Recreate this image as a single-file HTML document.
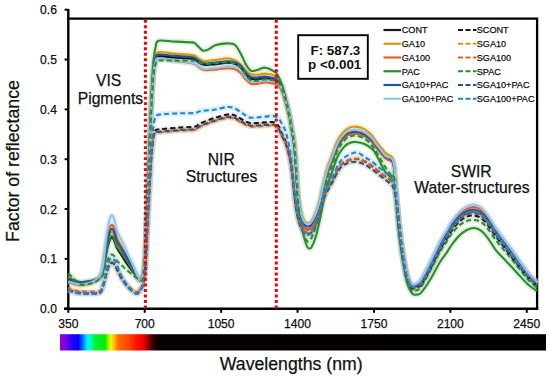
<!DOCTYPE html>
<html><head><meta charset="utf-8"><style>
html,body{margin:0;padding:0;background:#fff;width:550px;height:377px;overflow:hidden}
svg{display:block}
text{font-family:"Liberation Sans",sans-serif;fill:#111;stroke:#111;stroke-width:0.25px}
.tk{font-size:12.1px}
.lg{font-size:9.1px}
.lb{font-size:15.7px}
.ft{font-size:13.4px;font-weight:bold;stroke-width:0}
</style></head><body>
<svg width="550" height="377" viewBox="0 0 550 377">
<defs><linearGradient id="spec" x1="60" y1="0" x2="546" y2="0" gradientUnits="userSpaceOnUse">
<stop offset="0" stop-color="#9500D5"/>
<stop offset="0.01" stop-color="#8000E0"/>
<stop offset="0.024" stop-color="#2800FF"/>
<stop offset="0.038" stop-color="#0000FF"/>
<stop offset="0.05" stop-color="#00A0FF"/>
<stop offset="0.056" stop-color="#00F0FF"/>
<stop offset="0.064" stop-color="#00FFB0"/>
<stop offset="0.072" stop-color="#00F030"/>
<stop offset="0.093" stop-color="#00EE10"/>
<stop offset="0.1" stop-color="#B0F000"/>
<stop offset="0.106" stop-color="#FFF000"/>
<stop offset="0.114" stop-color="#FFA000"/>
<stop offset="0.12" stop-color="#FF6A00"/>
<stop offset="0.14" stop-color="#FF4A00"/>
<stop offset="0.16" stop-color="#FF0A00"/>
<stop offset="0.172" stop-color="#F00000"/>
<stop offset="0.18" stop-color="#A00000"/>
<stop offset="0.19" stop-color="#400000"/>
<stop offset="0.2" stop-color="#080000"/>
<stop offset="1" stop-color="#000000"/>
</linearGradient></defs>
<rect width="550" height="377" fill="#fff"/>
<line x1="68.3" y1="9" x2="68.3" y2="309.9" stroke="#000" stroke-width="2.4"/>
<line x1="64" y1="308.7" x2="538.2" y2="308.7" stroke="#000" stroke-width="2.4"/>
<path d="M67.1 18.6 H537.1 V309.9" fill="none" stroke="#000" stroke-width="2.3" stroke-linejoin="miter"/>
<line x1="64.6" y1="308.70" x2="68.3" y2="308.70" stroke="#000" stroke-width="2"/>
<text x="56.9" y="313.30" text-anchor="end" class="tk">0.0</text>
<line x1="64.6" y1="258.87" x2="68.3" y2="258.87" stroke="#000" stroke-width="2"/>
<text x="56.9" y="263.47" text-anchor="end" class="tk">0.1</text>
<line x1="64.6" y1="209.03" x2="68.3" y2="209.03" stroke="#000" stroke-width="2"/>
<text x="56.9" y="213.63" text-anchor="end" class="tk">0.2</text>
<line x1="64.6" y1="159.20" x2="68.3" y2="159.20" stroke="#000" stroke-width="2"/>
<text x="56.9" y="163.80" text-anchor="end" class="tk">0.3</text>
<line x1="64.6" y1="109.37" x2="68.3" y2="109.37" stroke="#000" stroke-width="2"/>
<text x="56.9" y="113.97" text-anchor="end" class="tk">0.4</text>
<line x1="64.6" y1="59.53" x2="68.3" y2="59.53" stroke="#000" stroke-width="2"/>
<text x="56.9" y="64.13" text-anchor="end" class="tk">0.5</text>
<line x1="64.6" y1="9.70" x2="68.3" y2="9.70" stroke="#000" stroke-width="2"/>
<text x="56.9" y="14.30" text-anchor="end" class="tk">0.6</text>
<line x1="68.30" y1="308.7" x2="68.30" y2="312.8" stroke="#000" stroke-width="2"/>
<text x="68.30" y="327.7" text-anchor="middle" class="tk">350</text>
<line x1="144.72" y1="308.7" x2="144.72" y2="312.8" stroke="#000" stroke-width="2"/>
<text x="144.72" y="327.7" text-anchor="middle" class="tk">700</text>
<line x1="221.13" y1="308.7" x2="221.13" y2="312.8" stroke="#000" stroke-width="2"/>
<text x="221.13" y="327.7" text-anchor="middle" class="tk">1050</text>
<line x1="297.55" y1="308.7" x2="297.55" y2="312.8" stroke="#000" stroke-width="2"/>
<text x="297.55" y="327.7" text-anchor="middle" class="tk">1400</text>
<line x1="373.97" y1="308.7" x2="373.97" y2="312.8" stroke="#000" stroke-width="2"/>
<text x="373.97" y="327.7" text-anchor="middle" class="tk">1750</text>
<line x1="450.38" y1="308.7" x2="450.38" y2="312.8" stroke="#000" stroke-width="2"/>
<text x="450.38" y="327.7" text-anchor="middle" class="tk">2100</text>
<line x1="526.80" y1="308.7" x2="526.80" y2="312.8" stroke="#000" stroke-width="2"/>
<text x="526.80" y="327.7" text-anchor="middle" class="tk">2450</text>
<path d="M68.30 280.00 C69.25 280.33 72.05 281.42 74.00 282.00 C75.95 282.58 77.67 283.42 80.00 283.50 C82.33 283.58 85.50 283.00 88.00 282.50 C90.50 282.00 93.00 281.33 95.00 280.50 C97.00 279.67 98.67 279.08 100.00 277.50 C101.33 275.92 102.17 273.92 103.00 271.00 C103.83 268.08 104.25 264.00 105.00 260.00 C105.75 256.00 106.67 250.42 107.50 247.00 C108.33 243.58 109.25 241.05 110.00 239.50 C110.75 237.95 111.33 237.62 112.00 237.70 C112.67 237.78 113.25 238.45 114.00 240.00 C114.75 241.55 115.67 245.08 116.50 247.00 C117.33 248.92 118.08 250.00 119.00 251.50 C119.92 253.00 121.00 254.45 122.00 256.00 C123.00 257.55 123.67 258.82 125.00 260.80 C126.33 262.78 128.33 265.65 130.00 267.90 C131.67 270.15 133.50 272.32 135.00 274.30 C136.50 276.28 137.92 279.10 139.00 279.80 C140.08 280.50 140.75 279.63 141.50 278.50 C142.25 277.37 142.88 276.92 143.50 273.00 C144.12 269.08 144.70 263.00 145.20 255.00 C145.70 247.00 146.07 235.83 146.50 225.00 C146.93 214.17 147.38 200.83 147.80 190.00 C148.22 179.17 148.60 170.00 149.00 160.00 C149.40 150.00 149.82 139.17 150.20 130.00 C150.58 120.83 150.92 112.67 151.30 105.00 C151.68 97.33 152.08 90.17 152.50 84.00 C152.92 77.83 153.30 72.00 153.80 68.00 C154.30 64.00 154.72 61.97 155.50 60.00 C156.28 58.03 155.25 56.62 158.50 56.20 C161.75 55.78 169.33 57.07 175.00 57.50 C180.67 57.93 189.00 58.35 192.50 58.80 C196.00 59.25 194.83 59.53 196.00 60.20 C197.17 60.87 198.33 62.07 199.50 62.80 C200.67 63.53 201.83 64.23 203.00 64.60 C204.17 64.97 205.33 65.02 206.50 65.00 C207.67 64.98 208.42 64.65 210.00 64.50 C211.58 64.35 213.17 64.38 216.00 64.10 C218.83 63.82 223.83 62.85 227.00 62.80 C230.17 62.75 232.67 62.97 235.00 63.80 C237.33 64.63 239.17 66.02 241.00 67.80 C242.83 69.58 244.33 72.67 246.00 74.50 C247.67 76.33 249.17 78.02 251.00 78.80 C252.83 79.58 254.83 79.32 257.00 79.20 C259.17 79.08 261.83 78.17 264.00 78.10 C266.17 78.03 268.00 78.40 270.00 78.80 C272.00 79.20 274.42 79.63 276.00 80.50 C277.58 81.37 278.50 82.58 279.50 84.00 C280.50 85.42 281.22 87.00 282.00 89.00 C282.78 91.00 283.37 93.17 284.20 96.00 C285.03 98.83 286.03 102.17 287.00 106.00 C287.97 109.83 289.17 114.83 290.00 119.00 C290.83 123.17 291.33 127.00 292.00 131.00 C292.67 135.00 293.42 138.17 294.00 143.00 C294.58 147.83 295.07 154.33 295.50 160.00 C295.93 165.67 296.25 171.50 296.60 177.00 C296.95 182.50 297.12 187.58 297.60 193.00 C298.08 198.42 298.93 205.42 299.50 209.50 C300.07 213.58 300.50 215.25 301.00 217.50 C301.50 219.75 301.92 221.33 302.50 223.00 C303.08 224.67 303.70 226.42 304.50 227.50 C305.30 228.58 306.30 229.33 307.30 229.50 C308.30 229.67 309.63 229.17 310.50 228.50 C311.37 227.83 311.95 226.42 312.50 225.50 C313.05 224.58 313.27 224.17 313.80 223.00 C314.33 221.83 315.07 220.08 315.70 218.50 C316.33 216.92 316.90 215.67 317.60 213.50 C318.30 211.33 319.08 208.92 319.90 205.50 C320.72 202.08 321.57 197.17 322.50 193.00 C323.43 188.83 324.58 184.08 325.50 180.50 C326.42 176.92 327.08 174.25 328.00 171.50 C328.92 168.75 329.33 168.25 331.00 164.00 C332.67 159.75 335.67 150.50 338.00 146.00 C340.33 141.50 343.00 139.00 345.00 137.00 C347.00 135.00 348.17 134.62 350.00 134.00 C351.83 133.38 353.50 132.97 356.00 133.30 C358.50 133.63 362.33 134.63 365.00 136.00 C367.67 137.37 370.33 139.92 372.00 141.50 C373.67 143.08 373.67 143.83 375.00 145.50 C376.33 147.17 378.33 149.50 380.00 151.50 C381.67 153.50 383.67 156.17 385.00 157.50 C386.33 158.83 387.00 158.95 388.00 159.50 C389.00 160.05 390.17 160.22 391.00 160.80 C391.83 161.38 392.43 161.47 393.00 163.00 C393.57 164.53 393.87 165.00 394.40 170.00 C394.93 175.00 395.52 184.67 396.20 193.00 C396.88 201.33 397.73 212.17 398.50 220.00 C399.27 227.83 400.00 234.00 400.80 240.00 C401.60 246.00 402.52 251.17 403.30 256.00 C404.08 260.83 404.75 265.25 405.50 269.00 C406.25 272.75 407.00 275.92 407.80 278.50 C408.60 281.08 409.40 283.08 410.30 284.50 C411.20 285.92 412.17 286.75 413.20 287.00 C414.23 287.25 415.20 286.75 416.50 286.00 C417.80 285.25 418.75 285.83 421.00 282.50 C423.25 279.17 426.83 272.08 430.00 266.00 C433.17 259.92 437.25 251.08 440.00 246.00 C442.75 240.92 444.50 238.75 446.50 235.50 C448.50 232.25 449.75 229.50 452.00 226.50 C454.25 223.50 457.50 219.75 460.00 217.50 C462.50 215.25 464.67 214.00 467.00 213.00 C469.33 212.00 471.67 211.33 474.00 211.50 C476.33 211.67 478.67 212.33 481.00 214.00 C483.33 215.67 485.50 218.25 488.00 221.50 C490.50 224.75 493.42 229.92 496.00 233.50 C498.58 237.08 501.00 239.83 503.50 243.00 C506.00 246.17 508.25 248.92 511.00 252.50 C513.75 256.08 517.17 260.75 520.00 264.50 C522.83 268.25 525.17 271.75 528.00 275.00 C530.83 278.25 535.50 282.50 537.00 284.00" stroke="#A0A0A0" stroke-opacity="0.12" stroke-width="6" fill="none" stroke-linejoin="round"/>
<path d="M68.30 277.05 C69.25 277.54 72.05 279.09 74.00 280.00 C75.95 280.91 77.67 282.25 80.00 282.50 C82.33 282.75 85.50 281.96 88.00 281.50 C90.50 281.04 93.00 280.47 95.00 279.75 C97.00 279.03 98.67 278.83 100.00 277.17 C101.33 275.51 102.17 273.11 103.00 269.81 C103.83 266.51 104.25 261.88 105.00 257.35 C105.75 252.82 106.67 246.50 107.50 242.63 C108.33 238.76 109.25 235.89 110.00 234.14 C110.75 232.38 111.33 232.01 112.00 232.10 C112.67 232.19 113.25 232.96 114.00 234.70 C114.75 236.45 115.67 240.46 116.50 242.59 C117.33 244.71 118.08 245.84 119.00 247.45 C119.92 249.07 121.00 250.61 122.00 252.28 C123.00 253.94 123.67 255.22 125.00 257.44 C126.33 259.66 128.33 262.93 130.00 265.57 C131.67 268.21 133.50 270.91 135.00 273.27 C136.50 275.64 137.92 278.90 139.00 279.77 C140.08 280.64 140.75 279.63 141.50 278.49 C142.25 277.35 142.88 276.95 143.50 272.95 C144.12 268.95 144.70 262.62 145.20 254.49 C145.70 246.35 146.07 235.09 146.50 224.14 C146.93 213.19 147.38 199.73 147.80 188.79 C148.22 177.84 148.60 168.57 149.00 158.46 C149.40 148.35 149.82 137.41 150.20 128.14 C150.58 118.87 150.92 110.61 151.30 102.84 C151.68 95.07 152.08 87.80 152.50 81.52 C152.92 75.24 153.30 69.30 153.80 65.17 C154.30 61.03 154.72 58.89 155.50 56.71 C156.28 54.53 155.25 52.62 158.50 52.10 C161.75 51.58 169.33 53.09 175.00 53.59 C180.67 54.09 189.00 54.63 192.50 55.10 C196.00 55.57 194.83 55.78 196.00 56.43 C197.17 57.07 198.33 58.24 199.50 58.95 C200.67 59.66 201.83 60.33 203.00 60.68 C204.17 61.02 205.33 61.04 206.50 61.00 C207.67 60.96 208.42 60.61 210.00 60.43 C211.58 60.24 213.17 60.25 216.00 59.90 C218.83 59.55 223.83 58.27 227.00 58.30 C230.17 58.33 232.67 59.03 235.00 60.10 C237.33 61.17 239.17 62.93 241.00 64.70 C242.83 66.47 244.33 69.10 246.00 70.70 C247.67 72.30 249.17 73.63 251.00 74.30 C252.83 74.97 254.83 74.82 257.00 74.70 C259.17 74.58 261.83 73.67 264.00 73.60 C266.17 73.53 268.00 73.83 270.00 74.30 C272.00 74.77 274.42 75.37 276.00 76.44 C277.58 77.51 278.50 79.08 279.50 80.72 C280.50 82.36 281.22 84.14 282.00 86.28 C282.78 88.42 283.37 90.66 284.20 93.57 C285.03 96.47 286.03 99.84 287.00 103.72 C287.97 107.61 289.17 112.68 290.00 116.89 C290.83 121.10 291.33 125.21 292.00 129.00 C292.67 132.79 293.42 135.17 294.00 139.60 C294.58 144.03 295.07 150.19 295.50 155.55 C295.93 160.91 296.25 166.47 296.60 171.78 C296.95 177.09 297.12 182.11 297.60 187.44 C298.08 192.76 298.93 199.71 299.50 203.74 C300.07 207.76 300.50 209.38 301.00 211.58 C301.50 213.78 301.92 215.32 302.50 216.92 C303.08 218.53 303.70 220.21 304.50 221.21 C305.30 222.21 306.30 222.78 307.30 222.92 C308.30 223.06 309.63 222.69 310.50 222.06 C311.37 221.43 311.95 220.05 312.50 219.17 C313.05 218.28 313.27 217.88 313.80 216.74 C314.33 215.59 315.07 213.88 315.70 212.32 C316.33 210.76 316.90 209.52 317.60 207.37 C318.30 205.22 319.08 202.83 319.90 199.43 C320.72 196.04 321.57 191.17 322.50 187.00 C323.43 182.83 324.58 178.03 325.50 174.42 C326.42 170.82 327.08 168.13 328.00 165.36 C328.92 162.59 329.33 162.07 331.00 157.78 C332.67 153.49 335.67 144.16 338.00 139.60 C340.33 135.05 343.00 132.49 345.00 130.45 C347.00 128.42 348.17 128.02 350.00 127.38 C351.83 126.73 353.50 126.28 356.00 126.60 C358.50 126.92 362.33 127.81 365.00 129.30 C367.67 130.80 370.33 133.80 372.00 135.57 C373.67 137.34 373.67 138.13 375.00 139.90 C376.33 141.67 378.33 144.10 380.00 146.20 C381.67 148.30 383.67 151.09 385.00 152.50 C386.33 153.91 387.00 154.05 388.00 154.65 C389.00 155.25 390.17 155.38 391.00 156.10 C391.83 156.82 392.43 157.25 393.00 158.98 C393.57 160.71 393.87 161.28 394.40 166.46 C394.93 171.63 395.52 181.57 396.20 190.01 C396.88 198.45 397.73 209.23 398.50 217.09 C399.27 224.95 400.00 231.14 400.80 237.17 C401.60 243.20 402.52 248.40 403.30 253.26 C404.08 258.12 404.75 262.56 405.50 266.34 C406.25 270.12 407.00 273.31 407.80 275.92 C408.60 278.53 409.40 280.56 410.30 282.01 C411.20 283.47 412.17 284.36 413.20 284.66 C414.23 284.96 415.20 284.51 416.50 283.82 C417.80 283.14 418.75 283.77 421.00 280.55 C423.25 277.33 426.83 270.49 430.00 264.50 C433.17 258.51 437.25 249.67 440.00 244.61 C442.75 239.56 444.50 237.41 446.50 234.19 C448.50 230.96 449.75 228.22 452.00 225.25 C454.25 222.28 457.50 218.56 460.00 216.34 C462.50 214.12 464.67 212.89 467.00 211.92 C469.33 210.95 471.67 210.32 474.00 210.50 C476.33 210.68 478.67 211.33 481.00 213.00 C483.33 214.67 485.50 217.25 488.00 220.50 C490.50 223.75 493.42 228.92 496.00 232.50 C498.58 236.08 501.00 238.83 503.50 242.00 C506.00 245.17 508.25 247.92 511.00 251.50 C513.75 255.08 517.17 259.75 520.00 263.50 C522.83 267.25 525.17 270.75 528.00 274.00 C530.83 277.25 535.50 281.50 537.00 283.00" stroke="#F5C860" stroke-opacity="0.25" stroke-width="6" fill="none" stroke-linejoin="round"/>
<path d="M68.30 281.99 C69.25 282.31 72.05 283.33 74.00 283.88 C75.95 284.42 77.67 285.22 80.00 285.25 C82.33 285.28 85.50 284.77 88.00 284.08 C90.50 283.40 93.00 282.38 95.00 281.15 C97.00 279.93 98.67 278.89 100.00 276.74 C101.33 274.60 102.17 272.08 103.00 268.28 C103.83 264.48 104.25 259.16 105.00 253.95 C105.75 248.74 106.67 241.46 107.50 237.01 C108.33 232.56 109.25 229.26 110.00 227.24 C110.75 225.23 111.33 224.79 112.00 224.90 C112.67 225.01 113.25 225.89 114.00 227.90 C114.75 229.90 115.67 234.52 116.50 236.92 C117.33 239.33 118.08 240.54 119.00 242.33 C119.92 244.12 121.00 245.81 122.00 247.65 C123.00 249.48 123.67 250.83 125.00 253.35 C126.33 255.88 128.33 259.67 130.00 262.78 C131.67 265.90 133.50 269.20 135.00 272.03 C136.50 274.86 137.92 278.67 139.00 279.74 C140.08 280.81 140.75 279.59 141.50 278.47 C142.25 277.36 142.88 276.90 143.50 273.03 C144.12 269.16 144.70 263.18 145.20 255.25 C145.70 247.32 146.07 236.20 146.50 225.42 C146.93 214.64 147.38 201.37 147.80 190.59 C148.22 179.81 148.60 170.70 149.00 160.75 C149.40 150.80 149.82 140.02 150.20 130.91 C150.58 121.79 150.92 113.67 151.30 106.05 C151.68 98.44 152.08 91.32 152.50 85.21 C152.92 79.10 153.30 73.32 153.80 69.38 C154.30 65.45 154.72 63.47 155.50 61.61 C156.28 59.74 155.25 58.34 158.50 58.20 C161.75 58.06 169.33 59.90 175.00 60.76 C180.67 61.63 189.00 62.70 192.50 63.40 C196.00 64.10 194.83 64.22 196.00 64.93 C197.17 65.65 198.33 66.89 199.50 67.67 C200.67 68.45 201.83 69.19 203.00 69.60 C204.17 70.01 205.33 70.11 206.50 70.14 C207.67 70.16 208.42 69.86 210.00 69.77 C211.58 69.68 213.17 69.85 216.00 69.60 C218.83 69.35 223.83 68.35 227.00 68.30 C230.17 68.25 232.67 68.47 235.00 69.30 C237.33 70.13 239.17 71.56 241.00 73.30 C242.83 75.04 244.33 78.00 246.00 79.75 C247.67 81.50 249.17 83.10 251.00 83.80 C252.83 84.50 254.83 84.15 257.00 83.94 C259.17 83.73 261.83 82.70 264.00 82.53 C266.17 82.37 268.00 82.72 270.00 82.97 C272.00 83.23 274.42 83.42 276.00 84.06 C277.58 84.69 278.50 85.58 279.50 86.78 C280.50 87.97 281.22 89.37 282.00 91.22 C282.78 93.07 283.37 95.16 284.20 97.89 C285.03 100.63 286.03 103.90 287.00 107.65 C287.97 111.40 289.17 116.29 290.00 120.38 C290.83 124.48 291.33 128.26 292.00 132.21 C292.67 136.15 293.42 139.25 294.00 144.03 C294.58 148.81 295.07 155.27 295.50 160.90 C295.93 166.53 296.25 172.33 296.60 177.80 C296.95 183.27 297.12 188.34 297.60 193.71 C298.08 199.09 298.93 206.01 299.50 210.04 C300.07 214.08 300.50 215.72 301.00 217.93 C301.50 220.15 301.92 221.71 302.50 223.33 C303.08 224.96 303.70 226.67 304.50 227.70 C305.30 228.73 306.30 229.38 307.30 229.51 C308.30 229.65 309.63 229.17 310.50 228.50 C311.37 227.83 311.95 226.42 312.50 225.50 C313.05 224.58 313.27 224.17 313.80 223.00 C314.33 221.83 315.07 220.08 315.70 218.50 C316.33 216.92 316.90 215.67 317.60 213.50 C318.30 211.33 319.08 208.92 319.90 205.50 C320.72 202.08 321.57 197.17 322.50 193.00 C323.43 188.83 324.58 184.08 325.50 180.50 C326.42 176.92 327.08 174.25 328.00 171.50 C328.92 168.75 329.33 168.25 331.00 164.00 C332.67 159.75 335.67 150.50 338.00 146.00 C340.33 141.50 343.00 139.00 345.00 137.00 C347.00 135.00 348.17 134.62 350.00 134.00 C351.83 133.38 353.50 132.97 356.00 133.30 C358.50 133.63 362.33 134.63 365.00 136.00 C367.67 137.37 370.33 139.92 372.00 141.50 C373.67 143.08 373.67 143.83 375.00 145.50 C376.33 147.17 378.33 149.50 380.00 151.50 C381.67 153.50 383.67 156.17 385.00 157.50 C386.33 158.83 387.00 158.95 388.00 159.50 C389.00 160.05 390.17 160.22 391.00 160.80 C391.83 161.38 392.43 161.47 393.00 163.00 C393.57 164.53 393.87 165.00 394.40 170.00 C394.93 175.00 395.52 184.67 396.20 193.00 C396.88 201.33 397.73 212.17 398.50 220.00 C399.27 227.83 400.00 234.00 400.80 240.00 C401.60 246.00 402.52 251.17 403.30 256.00 C404.08 260.83 404.75 265.25 405.50 269.00 C406.25 272.75 407.00 275.92 407.80 278.50 C408.60 281.08 409.40 283.10 410.30 284.48 C411.20 285.86 412.17 286.60 413.20 286.77 C414.23 286.95 415.20 286.38 416.50 285.54 C417.80 284.70 418.75 285.22 421.00 281.73 C423.25 278.24 426.83 270.90 430.00 264.59 C433.17 258.29 437.25 249.17 440.00 243.89 C442.75 238.61 444.50 236.32 446.50 232.93 C448.50 229.54 449.75 226.71 452.00 223.55 C454.25 220.39 457.50 216.41 460.00 213.98 C462.50 211.56 464.67 210.16 467.00 208.99 C469.33 207.83 471.67 206.86 474.00 207.00 C476.33 207.14 478.67 208.06 481.00 209.83 C483.33 211.61 485.50 214.30 488.00 217.67 C490.50 221.04 493.42 226.34 496.00 230.05 C498.58 233.75 501.00 236.62 503.50 239.90 C506.00 243.19 508.25 246.05 511.00 249.76 C513.75 253.48 517.17 258.31 520.00 262.19 C522.83 266.08 525.17 269.69 528.00 273.07 C530.83 276.46 535.50 280.93 537.00 282.50" stroke="#F5A070" stroke-opacity="0.18" stroke-width="6" fill="none" stroke-linejoin="round"/>
<path d="M68.30 280.99 C69.25 281.28 72.05 282.25 74.00 282.75 C75.95 283.25 77.67 284.01 80.00 284.00 C82.33 283.99 85.50 283.26 88.00 282.67 C90.50 282.08 93.00 281.34 95.00 280.46 C97.00 279.58 98.67 279.04 100.00 277.40 C101.33 275.76 102.17 273.67 103.00 270.64 C103.83 267.60 104.25 263.36 105.00 259.20 C105.75 255.04 106.67 249.23 107.50 245.67 C108.33 242.12 109.25 239.48 110.00 237.87 C110.75 236.26 111.33 235.91 112.00 236.00 C112.67 236.09 113.25 236.80 114.00 238.39 C114.75 239.99 115.67 243.68 116.50 245.56 C117.33 247.44 118.08 248.32 119.00 249.67 C119.92 251.02 121.00 252.29 122.00 253.67 C123.00 255.06 123.67 256.00 125.00 257.98 C126.33 259.97 128.33 263.03 130.00 265.60 C131.67 268.16 133.50 271.02 135.00 273.39 C136.50 275.76 137.92 278.94 139.00 279.79 C140.08 280.64 140.75 279.66 141.50 278.50 C142.25 277.34 142.88 277.01 143.50 272.84 C144.12 268.66 144.70 261.86 145.20 253.46 C145.70 245.05 146.07 233.63 146.50 222.41 C146.93 211.19 147.38 197.40 147.80 186.14 C148.22 174.88 148.60 165.27 149.00 154.84 C149.40 144.41 149.82 133.13 150.20 123.55 C150.58 113.97 150.92 105.44 151.30 97.36 C151.68 89.28 152.08 81.69 152.50 75.07 C152.92 68.45 153.30 62.21 153.80 57.67 C154.30 53.13 154.72 50.65 155.50 47.83 C156.28 45.02 155.25 41.84 158.50 40.80 C161.75 39.76 169.33 41.35 175.00 41.61 C180.67 41.88 189.00 41.94 192.50 42.40 C196.00 42.86 194.83 43.48 196.00 44.37 C197.17 45.27 198.33 46.72 199.50 47.76 C200.67 48.81 201.83 50.23 203.00 50.65 C204.17 51.06 205.33 50.63 206.50 50.27 C207.67 49.92 208.42 49.36 210.00 48.50 C211.58 47.64 213.17 45.95 216.00 45.10 C218.83 44.25 223.83 43.42 227.00 43.40 C230.17 43.38 232.67 43.18 235.00 45.00 C237.33 46.82 239.17 51.03 241.00 54.30 C242.83 57.57 244.33 61.88 246.00 64.62 C247.67 67.38 249.17 69.90 251.00 70.80 C252.83 71.70 254.83 70.58 257.00 70.05 C259.17 69.51 261.83 67.74 264.00 67.60 C266.17 67.46 268.00 68.33 270.00 69.20 C272.00 70.07 274.42 71.26 276.00 72.83 C277.58 74.41 278.50 76.63 279.50 78.67 C280.50 80.71 281.22 82.64 282.00 85.07 C282.78 87.50 283.37 89.96 284.20 93.24 C285.03 96.52 286.03 100.50 287.00 104.73 C287.97 108.97 289.17 114.26 290.00 118.67 C290.83 123.08 291.33 127.02 292.00 131.20 C292.67 135.38 293.42 138.73 294.00 143.73 C294.58 148.73 295.07 155.38 295.50 161.20 C295.93 167.02 296.25 173.00 296.60 178.64 C296.95 184.28 297.12 189.43 297.60 195.04 C298.08 200.65 298.93 207.77 299.50 212.30 C300.07 216.84 300.50 219.24 301.00 222.25 C301.50 225.26 301.92 227.65 302.50 230.38 C303.08 233.10 303.70 235.87 304.50 238.62 C305.30 241.38 306.30 245.31 307.30 246.93 C308.30 248.54 309.63 248.63 310.50 248.33 C311.37 248.03 311.95 246.13 312.50 245.12 C313.05 244.12 313.27 243.69 313.80 242.30 C314.33 240.91 315.07 238.87 315.70 236.80 C316.33 234.73 316.90 232.77 317.60 229.90 C318.30 227.03 319.08 223.63 319.90 219.60 C320.72 215.58 321.57 210.31 322.50 205.75 C323.43 201.19 324.58 196.07 325.50 192.25 C326.42 188.43 327.08 185.74 328.00 182.83 C328.92 179.93 329.33 179.36 331.00 174.83 C332.67 170.31 335.67 160.48 338.00 155.67 C340.33 150.85 343.00 148.07 345.00 145.93 C347.00 143.79 348.17 143.48 350.00 142.82 C351.83 142.15 353.50 141.72 356.00 141.95 C358.50 142.18 362.33 143.05 365.00 144.20 C367.67 145.35 370.33 147.48 372.00 148.86 C373.67 150.24 373.67 150.31 375.00 152.50 C376.33 154.69 378.33 158.83 380.00 162.00 C381.67 165.17 383.67 169.40 385.00 171.50 C386.33 173.60 387.00 173.68 388.00 174.60 C389.00 175.52 390.17 176.78 391.00 177.00 C391.83 177.22 392.43 175.32 393.00 175.92 C393.57 176.52 393.87 176.45 394.40 180.62 C394.93 184.80 395.52 193.13 396.20 200.97 C396.88 208.81 397.73 219.92 398.50 227.64 C399.27 235.37 400.00 241.43 400.80 247.31 C401.60 253.20 402.52 258.24 403.30 262.96 C404.08 267.68 404.75 272.00 405.50 275.64 C406.25 279.29 407.00 282.32 407.80 284.81 C408.60 287.31 409.40 289.04 410.30 290.62 C411.20 292.20 412.17 293.62 413.20 294.28 C414.23 294.94 415.20 294.83 416.50 294.60 C417.80 294.37 418.75 295.33 421.00 292.90 C423.25 290.47 426.83 285.15 430.00 280.00 C433.17 274.85 437.25 266.53 440.00 262.00 C442.75 257.47 444.50 255.74 446.50 252.80 C448.50 249.86 449.75 247.36 452.00 244.38 C454.25 241.39 457.50 237.28 460.00 234.88 C462.50 232.47 464.67 231.08 467.00 229.94 C469.33 228.79 471.67 227.88 474.00 228.00 C476.33 228.12 478.67 228.94 481.00 230.67 C483.33 232.39 485.50 235.06 488.00 238.33 C490.50 241.61 493.42 246.97 496.00 250.30 C498.58 253.63 501.00 255.63 503.50 258.30 C506.00 260.97 508.25 263.33 511.00 266.30 C513.75 269.27 517.17 273.11 520.00 276.14 C522.83 279.16 525.17 281.98 528.00 284.45 C530.83 286.93 535.50 289.91 537.00 291.00" stroke="#8CCB8C" stroke-opacity="0.25" stroke-width="6" fill="none" stroke-linejoin="round"/>
<path d="M68.30 278.01 C69.25 278.39 72.05 279.59 74.00 280.25 C75.95 280.91 77.67 281.82 80.00 282.00 C82.33 282.18 85.50 281.72 88.00 281.33 C90.50 280.95 93.00 280.41 95.00 279.68 C97.00 278.95 98.67 278.74 100.00 276.98 C101.33 275.22 102.17 272.65 103.00 269.13 C103.83 265.60 104.25 260.67 105.00 255.84 C105.75 251.01 106.67 244.26 107.50 240.13 C108.33 236.01 109.25 232.95 110.00 231.07 C110.75 229.20 111.33 228.80 112.00 228.90 C112.67 229.00 113.25 229.83 114.00 231.68 C114.75 233.53 115.67 237.82 116.50 240.00 C117.33 242.18 118.08 243.19 119.00 244.75 C119.92 246.31 121.00 247.77 122.00 249.37 C123.00 250.97 123.67 252.05 125.00 254.35 C126.33 256.66 128.33 260.21 130.00 263.20 C131.67 266.19 133.50 269.54 135.00 272.30 C136.50 275.06 137.92 278.73 139.00 279.76 C140.08 280.79 140.75 279.61 141.50 278.48 C142.25 277.35 142.88 276.93 143.50 272.98 C144.12 269.03 144.70 262.85 145.20 254.80 C145.70 246.75 146.07 235.54 146.50 224.66 C146.93 213.78 147.38 200.40 147.80 189.53 C148.22 178.65 148.60 169.44 149.00 159.40 C149.40 149.36 149.82 138.48 150.20 129.27 C150.58 120.07 150.92 111.86 151.30 104.16 C151.68 96.45 152.08 89.24 152.50 83.03 C152.92 76.82 153.30 70.95 153.80 66.89 C154.30 62.84 154.72 60.76 155.50 58.72 C156.28 56.67 155.25 55.07 158.50 54.60 C161.75 54.13 169.33 55.47 175.00 55.90 C180.67 56.33 189.00 56.75 192.50 57.20 C196.00 57.65 194.83 57.94 196.00 58.61 C197.17 59.29 198.33 60.49 199.50 61.23 C200.67 61.97 201.83 62.67 203.00 63.04 C204.17 63.42 205.33 63.47 206.50 63.46 C207.67 63.45 208.42 63.12 210.00 62.97 C211.58 62.83 213.17 62.89 216.00 62.60 C218.83 62.31 223.83 61.28 227.00 61.21 C230.17 61.13 232.67 61.32 235.00 62.14 C237.33 62.95 239.17 64.32 241.00 66.09 C242.83 67.85 244.33 70.92 246.00 72.74 C247.67 74.56 249.17 76.20 251.00 77.00 C252.83 77.80 254.83 77.62 257.00 77.56 C259.17 77.50 261.83 76.65 264.00 76.64 C266.17 76.63 268.00 77.07 270.00 77.50 C272.00 77.92 274.42 78.36 276.00 79.19 C277.58 80.03 278.50 81.14 279.50 82.50 C280.50 83.87 281.22 85.41 282.00 87.37 C282.78 89.33 283.37 91.46 284.20 94.25 C285.03 97.04 286.03 100.32 287.00 104.10 C287.97 107.88 289.17 112.82 290.00 116.94 C290.83 121.06 291.33 124.87 292.00 128.83 C292.67 132.80 293.42 135.92 294.00 140.73 C294.58 145.53 295.07 152.00 295.50 157.64 C295.93 163.29 296.25 169.10 296.60 174.59 C296.95 180.07 297.12 185.14 297.60 190.53 C298.08 195.92 298.93 202.88 299.50 206.93 C300.07 210.98 300.50 212.63 301.00 214.85 C301.50 217.07 301.92 218.63 302.50 220.27 C303.08 221.90 303.70 223.62 304.50 224.66 C305.30 225.70 306.30 226.36 307.30 226.51 C308.30 226.67 309.63 226.23 310.50 225.59 C311.37 224.95 311.95 223.55 312.50 222.65 C313.05 221.75 313.27 221.34 313.80 220.19 C314.33 219.04 315.07 217.31 315.70 215.75 C316.33 214.18 316.90 212.95 317.60 210.81 C318.30 208.66 319.08 206.27 319.90 202.88 C320.72 199.48 321.57 194.59 322.50 190.45 C323.43 186.32 324.58 181.60 325.50 178.05 C326.42 174.49 327.08 171.84 328.00 169.12 C328.92 166.40 329.33 165.91 331.00 161.71 C332.67 157.51 335.67 148.35 338.00 143.92 C340.33 139.49 343.00 137.08 345.00 135.14 C347.00 133.20 348.17 132.85 350.00 132.29 C351.83 131.73 353.50 131.40 356.00 131.77 C358.50 132.14 362.33 133.13 365.00 134.50 C367.67 135.87 370.33 138.42 372.00 140.00 C373.67 141.58 373.67 142.33 375.00 144.00 C376.33 145.67 378.33 148.00 380.00 150.00 C381.67 152.00 383.67 154.67 385.00 156.00 C386.33 157.33 387.00 157.45 388.00 158.00 C389.00 158.55 390.17 158.69 391.00 159.30 C391.83 159.91 392.43 160.08 393.00 161.66 C393.57 163.24 393.87 163.73 394.40 168.77 C394.93 173.81 395.52 183.52 396.20 191.91 C396.88 200.30 397.73 211.20 398.50 219.09 C399.27 226.99 400.00 233.21 400.80 239.27 C401.60 245.34 402.52 250.58 403.30 255.47 C404.08 260.37 404.75 264.84 405.50 268.64 C406.25 272.45 407.00 275.69 407.80 278.33 C408.60 280.97 409.40 283.06 410.30 284.49 C411.20 285.92 412.17 286.68 413.20 286.90 C414.23 287.12 415.20 286.59 416.50 285.80 C417.80 285.01 418.75 285.56 421.00 282.16 C423.25 278.75 426.83 271.56 430.00 265.38 C433.17 259.19 437.25 250.23 440.00 245.06 C442.75 239.89 444.50 237.67 446.50 234.36 C448.50 231.05 449.75 228.26 452.00 225.19 C454.25 222.12 457.50 218.27 460.00 215.94 C462.50 213.61 464.67 212.29 467.00 211.22 C469.33 210.15 471.67 209.33 474.00 209.50 C476.33 209.67 478.67 210.48 481.00 212.22 C483.33 213.96 485.50 216.62 488.00 219.94 C490.50 223.27 493.42 228.53 496.00 232.20 C498.58 235.86 501.00 238.69 503.50 241.94 C506.00 245.18 508.25 248.00 511.00 251.67 C513.75 255.35 517.17 260.12 520.00 263.96 C522.83 267.80 525.17 271.37 528.00 274.71 C530.83 278.05 535.50 282.45 537.00 284.00" stroke="#8AB0E0" stroke-opacity="0.20" stroke-width="6" fill="none" stroke-linejoin="round"/>
<path d="M68.30 281.49 C69.25 281.78 72.05 282.75 74.00 283.25 C75.95 283.75 77.67 284.51 80.00 284.50 C82.33 284.49 85.50 283.86 88.00 283.17 C90.50 282.47 93.00 281.48 95.00 280.32 C97.00 279.15 98.67 278.53 100.00 276.18 C101.33 273.84 102.17 270.71 103.00 266.26 C103.83 261.80 104.25 255.57 105.00 249.46 C105.75 243.35 106.67 234.82 107.50 229.60 C108.33 224.38 109.25 220.52 110.00 218.15 C110.75 215.78 111.33 215.27 112.00 215.40 C112.67 215.53 113.25 216.58 114.00 218.91 C114.75 221.25 115.67 226.68 116.50 229.42 C117.33 232.17 118.08 233.43 119.00 235.38 C119.92 237.34 121.00 239.16 122.00 241.17 C123.00 243.17 123.67 244.50 125.00 247.41 C126.33 250.31 128.33 254.81 130.00 258.61 C131.67 262.41 133.50 266.69 135.00 270.20 C136.50 273.72 137.92 278.32 139.00 279.69 C140.08 281.07 140.75 279.57 141.50 278.46 C142.25 277.34 142.88 276.89 143.50 273.03 C144.12 269.16 144.70 263.19 145.20 255.26 C145.70 247.33 146.07 236.22 146.50 225.44 C146.93 214.67 147.38 201.40 147.80 190.62 C148.22 179.85 148.60 170.73 149.00 160.79 C149.40 150.84 149.82 140.07 150.20 130.95 C150.58 121.84 150.92 113.72 151.30 106.11 C151.68 98.49 152.08 91.38 152.50 85.27 C152.92 79.16 153.30 73.38 153.80 69.45 C154.30 65.52 154.72 63.54 155.50 61.69 C156.28 59.83 155.25 58.48 158.50 58.30 C161.75 58.12 169.33 59.84 175.00 60.62 C180.67 61.40 189.00 62.37 192.50 63.00 C196.00 63.63 194.83 63.71 196.00 64.37 C197.17 65.03 198.33 66.22 199.50 66.94 C200.67 67.66 201.83 68.35 203.00 68.71 C204.17 69.07 205.33 69.11 206.50 69.08 C207.67 69.05 208.42 68.71 210.00 68.55 C211.58 68.39 213.17 68.44 216.00 68.10 C218.83 67.76 223.83 66.63 227.00 66.49 C230.17 66.35 232.67 66.49 235.00 67.26 C237.33 68.02 239.17 69.35 241.00 71.09 C242.83 72.82 244.33 75.86 246.00 77.64 C247.67 79.43 249.17 81.08 251.00 81.80 C252.83 82.52 254.83 82.15 257.00 81.94 C259.17 81.73 261.83 80.70 264.00 80.53 C266.17 80.37 268.00 80.72 270.00 80.97 C272.00 81.23 274.42 81.42 276.00 82.06 C277.58 82.69 278.50 83.58 279.50 84.78 C280.50 85.97 281.22 87.40 282.00 89.22 C282.78 91.05 283.37 93.09 284.20 95.73 C285.03 98.38 286.03 101.49 287.00 105.11 C287.97 108.73 289.17 113.46 290.00 117.44 C290.83 121.43 291.33 125.21 292.00 129.00 C292.67 132.79 293.42 135.60 294.00 140.20 C294.58 144.80 295.07 151.11 295.50 156.60 C295.93 162.09 296.25 167.77 296.60 173.16 C296.95 178.55 297.12 183.58 297.60 188.91 C298.08 194.24 298.93 201.14 299.50 205.14 C300.07 209.15 300.50 210.75 301.00 212.93 C301.50 215.11 301.92 216.63 302.50 218.21 C303.08 219.80 303.70 221.46 304.50 222.43 C305.30 223.40 306.30 223.90 307.30 224.03 C308.30 224.16 309.63 223.82 310.50 223.20 C311.37 222.58 311.95 221.21 312.50 220.33 C313.05 219.45 313.27 219.05 313.80 217.92 C314.33 216.79 315.07 215.09 315.70 213.54 C316.33 212.00 316.90 210.79 317.60 208.66 C318.30 206.54 319.08 204.17 319.90 200.81 C320.72 197.44 321.57 192.58 322.50 188.47 C323.43 184.36 324.58 179.68 325.50 176.16 C326.42 172.63 327.08 170.01 328.00 167.31 C328.92 164.62 329.33 164.19 331.00 160.00 C332.67 155.81 335.67 146.60 338.00 142.15 C340.33 137.69 343.00 135.25 345.00 133.29 C347.00 131.33 348.17 130.98 350.00 130.40 C351.83 129.81 353.50 129.45 356.00 129.80 C358.50 130.15 362.33 131.07 365.00 132.50 C367.67 133.93 370.33 136.68 372.00 138.35 C373.67 140.02 373.67 140.75 375.00 142.50 C376.33 144.25 378.33 146.73 380.00 148.85 C381.67 150.97 383.67 153.83 385.00 155.20 C386.33 156.57 387.00 156.55 388.00 157.05 C389.00 157.55 390.17 157.63 391.00 158.20 C391.83 158.77 392.43 158.91 393.00 160.46 C393.57 162.01 393.87 162.49 394.40 167.51 C394.93 172.52 395.52 182.21 396.20 190.56 C396.88 198.92 397.73 209.78 398.50 217.64 C399.27 225.49 400.00 231.68 400.80 237.71 C401.60 243.73 402.52 248.93 403.30 253.79 C404.08 258.65 404.75 263.08 405.50 266.86 C406.25 270.63 407.00 273.83 407.80 276.43 C408.60 279.03 409.40 281.09 410.30 282.48 C411.20 283.86 412.17 284.58 413.20 284.75 C414.23 284.92 415.20 284.34 416.50 283.49 C417.80 282.64 418.75 283.15 421.00 279.64 C423.25 276.13 426.83 268.77 430.00 262.44 C433.17 256.11 437.25 246.95 440.00 241.66 C442.75 236.36 444.50 234.05 446.50 230.65 C448.50 227.24 449.75 224.39 452.00 221.22 C454.25 218.04 457.50 214.04 460.00 211.59 C462.50 209.15 464.67 207.73 467.00 206.55 C469.33 205.36 471.67 204.32 474.00 204.50 C476.33 204.68 478.67 205.74 481.00 207.61 C483.33 209.48 485.50 212.25 488.00 215.72 C490.50 219.19 493.42 224.61 496.00 228.42 C498.58 232.23 501.00 235.19 503.50 238.58 C506.00 241.96 508.25 244.91 511.00 248.73 C513.75 252.55 517.17 257.52 520.00 261.52 C522.83 265.51 525.17 269.22 528.00 272.71 C530.83 276.21 535.50 280.87 537.00 282.50" stroke="#A8D4F4" stroke-opacity="0.35" stroke-width="6" fill="none" stroke-linejoin="round"/>
<path d="M68.30 273.20 C69.25 274.17 72.05 277.12 74.00 279.00 C75.95 280.88 77.67 283.64 80.00 284.50 C82.33 285.36 85.50 284.56 88.00 284.17 C90.50 283.77 93.00 283.07 95.00 282.12 C97.00 281.18 98.67 279.75 100.00 278.49 C101.33 277.23 102.17 276.33 103.00 274.57 C103.83 272.82 104.25 270.35 105.00 267.94 C105.75 265.53 106.67 262.17 107.50 260.11 C108.33 258.05 109.25 256.52 110.00 255.59 C110.75 254.65 111.33 254.45 112.00 254.50 C112.67 254.55 113.25 254.95 114.00 255.89 C114.75 256.82 115.67 258.95 116.50 260.11 C117.33 261.26 118.08 261.91 119.00 262.82 C119.92 263.72 121.00 264.60 122.00 265.53 C123.00 266.47 123.67 267.23 125.00 268.43 C126.33 269.62 128.33 271.35 130.00 272.71 C131.67 274.06 133.50 275.37 135.00 276.56 C136.50 277.76 137.92 279.26 139.00 279.88 C140.08 280.50 140.75 280.92 141.50 280.28 C142.25 279.64 142.88 279.68 143.50 276.05 C144.12 272.43 144.70 266.38 145.20 258.51 C145.70 250.65 146.07 239.61 146.50 228.86 C146.93 218.12 147.38 204.83 147.80 194.03 C148.22 183.23 148.60 174.06 149.00 164.07 C149.40 154.08 149.82 143.26 150.20 134.11 C150.58 124.96 150.92 116.80 151.30 109.15 C151.68 101.50 152.08 94.34 152.50 88.19 C152.92 82.04 153.30 76.22 153.80 72.24 C154.30 68.25 154.72 66.24 155.50 64.30 C156.28 62.36 155.25 61.21 158.50 60.60 C161.75 59.99 169.33 60.64 175.00 60.64 C180.67 60.64 189.00 60.52 192.50 60.60 C196.00 60.68 194.83 60.74 196.00 61.11 C197.17 61.48 198.33 62.38 199.50 62.82 C200.67 63.25 201.83 63.53 203.00 63.73 C204.17 63.92 205.33 64.04 206.50 64.00 C207.67 63.96 208.42 63.65 210.00 63.50 C211.58 63.35 213.17 63.31 216.00 63.10 C218.83 62.89 223.83 62.16 227.00 62.24 C230.17 62.32 232.67 62.63 235.00 63.56 C237.33 64.49 239.17 65.83 241.00 67.80 C242.83 69.77 244.33 73.23 246.00 75.35 C247.67 77.47 249.17 79.61 251.00 80.50 C252.83 81.39 254.83 80.90 257.00 80.72 C259.17 80.53 261.83 79.54 264.00 79.40 C266.17 79.27 268.00 79.65 270.00 79.92 C272.00 80.20 274.42 80.41 276.00 81.06 C277.58 81.70 278.50 82.58 279.50 83.78 C280.50 84.97 281.22 86.33 282.00 88.22 C282.78 90.11 283.37 92.26 284.20 95.13 C285.03 98.00 286.03 101.50 287.00 105.44 C287.97 109.39 289.17 114.52 290.00 118.78 C290.83 123.04 291.33 126.80 292.00 131.00 C292.67 135.20 293.42 138.88 294.00 144.00 C294.58 149.12 295.07 155.87 295.50 161.75 C295.93 167.63 296.25 173.62 296.60 179.30 C296.95 184.98 297.12 190.14 297.60 195.80 C298.08 201.46 298.93 208.79 299.50 213.25 C300.07 217.71 300.50 219.83 301.00 222.57 C301.50 225.30 301.92 227.38 302.50 229.67 C303.08 231.96 303.70 234.36 304.50 236.30 C305.30 238.24 306.30 240.79 307.30 241.29 C308.30 241.79 309.63 240.26 310.50 239.30 C311.37 238.34 311.95 236.64 312.50 235.50 C313.05 234.36 313.27 233.86 313.80 232.48 C314.33 231.10 315.07 229.06 315.70 227.22 C316.33 225.38 316.90 223.91 317.60 221.46 C318.30 219.01 319.08 216.28 319.90 212.54 C320.72 208.80 321.57 203.42 322.50 199.00 C323.43 194.58 324.58 189.76 325.50 186.04 C326.42 182.31 327.08 179.54 328.00 176.65 C328.92 173.76 329.33 173.20 331.00 168.69 C332.67 164.19 335.67 154.42 338.00 149.62 C340.33 144.81 343.00 142.01 345.00 139.84 C347.00 137.66 348.17 137.27 350.00 136.57 C351.83 135.87 353.50 135.27 356.00 135.66 C358.50 136.05 362.33 137.27 365.00 138.90 C367.67 140.53 370.33 143.62 372.00 145.45 C373.67 147.28 373.67 147.78 375.00 149.90 C376.33 152.03 378.33 155.43 380.00 158.20 C381.67 160.97 383.67 164.37 385.00 166.50 C386.33 168.63 387.00 169.62 388.00 171.00 C389.00 172.38 390.17 174.20 391.00 174.80 C391.83 175.40 392.43 173.75 393.00 174.60 C393.57 175.45 393.87 175.53 394.40 179.92 C394.93 184.31 395.52 193.05 396.20 200.94 C396.88 208.84 397.73 219.67 398.50 227.29 C399.27 234.90 400.00 240.86 400.80 246.63 C401.60 252.40 402.52 257.30 403.30 261.91 C404.08 266.52 404.75 270.75 405.50 274.29 C406.25 277.82 407.00 280.76 407.80 283.13 C408.60 285.50 409.40 287.18 410.30 288.51 C411.20 289.85 412.17 290.86 413.20 291.16 C414.23 291.46 415.20 291.01 416.50 290.32 C417.80 289.64 418.75 290.27 421.00 287.05 C423.25 283.83 426.83 276.88 430.00 271.00 C433.17 265.12 437.25 256.66 440.00 251.80 C442.75 246.93 444.50 244.90 446.50 241.81 C448.50 238.72 449.75 236.07 452.00 233.25 C454.25 230.43 457.50 226.94 460.00 224.89 C462.50 222.84 464.67 221.76 467.00 220.94 C469.33 220.13 471.67 219.82 474.00 220.00 C476.33 220.18 478.67 220.50 481.00 222.00 C483.33 223.50 485.50 225.93 488.00 229.00 C490.50 232.07 493.42 237.03 496.00 240.43 C498.58 243.83 501.00 246.40 503.50 249.39 C506.00 252.38 508.25 254.97 511.00 258.36 C513.75 261.74 517.17 266.17 520.00 269.71 C522.83 273.26 525.17 276.60 528.00 279.64 C530.83 282.69 535.50 286.61 537.00 288.00" stroke="#8CCB8C" stroke-opacity="0.25" stroke-width="6" fill="none"/>
<path d="M68.30 289.00 C69.42 289.50 72.38 291.33 75.00 292.00 C77.62 292.67 81.17 292.83 84.00 293.00 C86.83 293.17 89.33 293.08 92.00 293.00 C94.67 292.92 98.17 293.67 100.00 292.50 C101.83 291.33 102.00 288.92 103.00 286.00 C104.00 283.08 105.00 278.50 106.00 275.00 C107.00 271.50 108.00 267.08 109.00 265.00 C110.00 262.92 111.00 262.50 112.00 262.50 C113.00 262.50 114.00 263.58 115.00 265.00 C116.00 266.42 116.83 268.67 118.00 271.00 C119.17 273.33 120.33 276.33 122.00 279.00 C123.67 281.67 126.17 284.92 128.00 287.00 C129.83 289.08 131.50 290.42 133.00 291.50 C134.50 292.58 135.83 293.67 137.00 293.50 C138.17 293.33 138.92 292.25 140.00 290.50 C141.08 288.75 142.58 287.25 143.50 283.00 C144.42 278.75 144.92 273.00 145.50 265.00 C146.08 257.00 146.50 245.00 147.00 235.00 C147.50 225.00 148.00 214.50 148.50 205.00 C149.00 195.50 149.55 185.83 150.00 178.00 C150.45 170.17 150.82 163.50 151.20 158.00 C151.58 152.50 151.95 148.67 152.30 145.00 C152.65 141.33 152.88 138.33 153.30 136.00 C153.72 133.67 154.13 132.08 154.80 131.00 C155.47 129.92 155.60 129.87 157.30 129.50 C159.00 129.13 161.22 129.13 165.00 128.80 C168.78 128.47 175.00 127.87 180.00 127.50 C185.00 127.13 191.67 127.27 195.00 126.60 C198.33 125.93 196.87 124.90 200.00 123.50 C203.13 122.10 209.20 119.70 213.80 118.20 C218.40 116.70 224.07 114.95 227.60 114.50 C231.13 114.05 232.52 114.62 235.00 115.50 C237.48 116.38 240.00 118.55 242.50 119.80 C245.00 121.05 247.08 122.50 250.00 123.00 C252.92 123.50 256.33 122.97 260.00 122.80 C263.67 122.63 269.33 121.88 272.00 122.00 C274.67 122.12 274.83 122.67 276.00 123.50 C277.17 124.33 278.00 125.25 279.00 127.00 C280.00 128.75 280.87 131.50 282.00 134.00 C283.13 136.50 284.47 138.00 285.80 142.00 C287.13 146.00 288.88 152.33 290.00 158.00 C291.12 163.67 291.75 169.83 292.50 176.00 C293.25 182.17 293.83 189.33 294.50 195.00 C295.17 200.67 295.75 205.67 296.50 210.00 C297.25 214.33 298.08 217.92 299.00 221.00 C299.92 224.08 301.00 226.67 302.00 228.50 C303.00 230.33 304.00 231.25 305.00 232.00 C306.00 232.75 307.00 233.00 308.00 233.00 C309.00 233.00 310.00 232.83 311.00 232.00 C312.00 231.17 313.00 230.00 314.00 228.00 C315.00 226.00 316.00 223.00 317.00 220.00 C318.00 217.00 318.83 214.00 320.00 210.00 C321.17 206.00 322.17 200.50 324.00 196.00 C325.83 191.50 328.33 188.00 331.00 183.00 C333.67 178.00 337.17 169.75 340.00 166.00 C342.83 162.25 345.17 161.70 348.00 160.50 C350.83 159.30 354.17 158.63 357.00 158.80 C359.83 158.97 362.50 160.30 365.00 161.50 C367.50 162.70 369.50 164.17 372.00 166.00 C374.50 167.83 377.67 170.67 380.00 172.50 C382.33 174.33 384.17 175.67 386.00 177.00 C387.83 178.33 389.67 179.00 391.00 180.50 C392.33 182.00 393.08 182.75 394.00 186.00 C394.92 189.25 395.67 193.83 396.50 200.00 C397.33 206.17 398.00 214.00 399.00 223.00 C400.00 232.00 401.33 245.42 402.50 254.00 C403.67 262.58 404.92 269.50 406.00 274.50 C407.08 279.50 408.00 281.75 409.00 284.00 C410.00 286.25 411.00 287.25 412.00 288.00 C413.00 288.75 413.92 288.75 415.00 288.50 C416.08 288.25 417.50 287.08 418.50 286.50 C419.50 285.92 419.08 287.83 421.00 285.00 C422.92 282.17 426.83 275.42 430.00 269.50 C433.17 263.58 437.25 254.58 440.00 249.50 C442.75 244.42 444.50 242.25 446.50 239.00 C448.50 235.75 449.75 233.00 452.00 230.00 C454.25 227.00 457.50 223.25 460.00 221.00 C462.50 218.75 464.67 217.42 467.00 216.50 C469.33 215.58 471.67 215.25 474.00 215.50 C476.33 215.75 478.67 216.42 481.00 218.00 C483.33 219.58 485.50 221.92 488.00 225.00 C490.50 228.08 493.42 233.00 496.00 236.50 C498.58 240.00 501.00 242.75 503.50 246.00 C506.00 249.25 508.25 252.42 511.00 256.00 C513.75 259.58 517.17 264.00 520.00 267.50 C522.83 271.00 525.17 274.00 528.00 277.00 C530.83 280.00 535.50 284.08 537.00 285.50" stroke="#A0A0A0" stroke-opacity="0.12" stroke-width="6" fill="none"/>
<path d="M68.30 289.00 C69.42 289.50 72.38 291.33 75.00 292.00 C77.62 292.67 81.17 292.83 84.00 293.00 C86.83 293.17 89.33 293.08 92.00 293.00 C94.67 292.92 98.17 293.67 100.00 292.50 C101.83 291.33 102.00 288.92 103.00 286.00 C104.00 283.08 105.00 278.50 106.00 275.00 C107.00 271.50 108.00 267.08 109.00 265.00 C110.00 262.92 111.00 262.50 112.00 262.50 C113.00 262.50 114.00 263.58 115.00 265.00 C116.00 266.42 116.83 268.67 118.00 271.00 C119.17 273.33 120.33 276.33 122.00 279.00 C123.67 281.67 126.17 284.92 128.00 287.00 C129.83 289.08 131.50 290.42 133.00 291.50 C134.50 292.58 135.83 293.67 137.00 293.50 C138.17 293.33 138.92 292.25 140.00 290.50 C141.08 288.75 142.58 287.23 143.50 283.00 C144.42 278.77 144.92 273.03 145.50 265.10 C146.08 257.17 146.50 245.31 147.00 235.42 C147.50 225.52 148.00 215.12 148.50 205.73 C149.00 196.33 149.55 186.78 150.00 179.04 C150.45 171.30 150.82 164.71 151.20 159.29 C151.58 153.87 151.95 150.11 152.30 146.52 C152.65 142.93 152.88 139.98 153.30 137.73 C153.72 135.48 154.13 134.00 154.80 133.04 C155.47 132.09 155.60 132.29 157.30 132.00 C159.00 131.71 161.22 131.63 165.00 131.30 C168.78 130.97 175.00 130.37 180.00 130.00 C185.00 129.63 191.67 129.77 195.00 129.10 C198.33 128.43 196.87 127.40 200.00 126.00 C203.13 124.60 209.20 122.20 213.80 120.70 C218.40 119.20 224.07 117.45 227.60 117.00 C231.13 116.55 232.52 117.12 235.00 118.00 C237.48 118.88 240.00 121.05 242.50 122.30 C245.00 123.55 247.08 125.00 250.00 125.50 C252.92 126.00 256.33 125.47 260.00 125.30 C263.67 125.13 269.33 124.42 272.00 124.50 C274.67 124.58 274.83 125.05 276.00 125.81 C277.17 126.56 278.00 127.37 279.00 129.02 C280.00 130.67 280.87 133.34 282.00 135.73 C283.13 138.12 284.47 139.49 285.80 143.37 C287.13 147.24 288.88 153.40 290.00 158.96 C291.12 164.52 291.75 170.63 292.50 176.72 C293.25 182.82 293.83 189.93 294.50 195.53 C295.17 201.13 295.75 206.08 296.50 210.34 C297.25 214.60 298.08 218.07 299.00 221.10 C299.92 224.12 301.00 226.68 302.00 228.50 C303.00 230.32 304.00 231.24 305.00 232.00 C306.00 232.76 307.00 232.99 308.00 233.03 C309.00 233.07 310.00 232.98 311.00 232.21 C312.00 231.44 313.00 230.33 314.00 228.39 C315.00 226.45 316.00 223.52 317.00 220.58 C318.00 217.64 318.83 214.69 320.00 210.76 C321.17 206.83 322.17 201.39 324.00 197.00 C325.83 192.61 328.33 189.26 331.00 184.42 C333.67 179.59 337.17 171.55 340.00 167.97 C342.83 164.39 345.17 163.98 348.00 162.95 C350.83 161.93 354.17 161.54 357.00 161.80 C359.83 162.06 362.50 163.30 365.00 164.50 C367.50 165.70 369.50 167.17 372.00 169.00 C374.50 170.83 377.67 173.67 380.00 175.50 C382.33 177.33 384.17 178.67 386.00 180.00 C387.83 181.33 389.67 182.11 391.00 183.50 C392.33 184.89 393.08 185.31 394.00 188.37 C394.92 191.43 395.67 195.85 396.50 201.84 C397.33 207.83 398.00 215.53 399.00 224.32 C400.00 233.11 401.33 246.24 402.50 254.58 C403.67 262.92 404.92 269.57 406.00 274.34 C407.08 279.11 408.00 281.11 409.00 283.21 C410.00 285.31 411.00 286.24 412.00 286.92 C413.00 287.60 413.92 287.60 415.00 287.30 C416.08 287.01 417.50 285.79 418.50 285.17 C419.50 284.55 419.08 286.48 421.00 283.57 C422.92 280.66 426.83 273.76 430.00 267.72 C433.17 261.68 437.25 252.52 440.00 247.33 C442.75 242.14 444.50 239.90 446.50 236.57 C448.50 233.25 449.75 230.45 452.00 227.36 C454.25 224.27 457.50 220.39 460.00 218.05 C462.50 215.70 464.67 214.28 467.00 213.27 C469.33 212.27 471.67 211.75 474.00 212.00 C476.33 212.25 478.67 213.10 481.00 214.78 C483.33 216.45 485.50 218.87 488.00 222.06 C490.50 225.24 493.42 230.27 496.00 233.87 C498.58 237.48 501.00 240.32 503.50 243.67 C506.00 247.02 508.25 250.28 511.00 253.97 C513.75 257.66 517.17 262.21 520.00 265.83 C522.83 269.44 525.17 272.53 528.00 275.64 C530.83 278.76 535.50 283.02 537.00 284.50" stroke="#F5C860" stroke-opacity="0.25" stroke-width="6" fill="none"/>
<path d="M68.30 287.50 C69.42 288.00 72.38 289.83 75.00 290.50 C77.62 291.17 81.17 291.33 84.00 291.50 C86.83 291.67 89.33 291.58 92.00 291.50 C94.67 291.42 98.17 292.10 100.00 291.00 C101.83 289.90 102.00 287.67 103.00 284.88 C104.00 282.08 105.00 277.62 106.00 274.25 C107.00 270.88 108.00 266.58 109.00 264.62 C110.00 262.67 111.00 262.48 112.00 262.50 C113.00 262.52 114.00 263.43 115.00 264.77 C116.00 266.11 116.83 268.29 118.00 270.54 C119.17 272.78 120.33 275.67 122.00 278.23 C123.67 280.79 126.17 283.89 128.00 285.88 C129.83 287.86 131.50 289.15 133.00 290.17 C134.50 291.19 135.83 292.10 137.00 292.00 C138.17 291.90 138.92 291.11 140.00 289.56 C141.08 288.02 142.58 286.79 143.50 282.72 C144.42 278.65 144.92 272.99 145.50 265.12 C146.08 257.26 146.50 245.38 147.00 235.50 C147.50 225.62 148.00 215.25 148.50 205.88 C149.00 196.50 149.55 186.97 150.00 179.25 C150.45 171.53 150.82 164.95 151.20 159.55 C151.58 154.15 151.95 150.40 152.30 146.82 C152.65 143.25 152.88 140.30 153.30 138.07 C153.72 135.85 154.13 134.38 154.80 133.45 C155.47 132.52 155.60 132.77 157.30 132.50 C159.00 132.23 161.22 132.15 165.00 131.83 C168.78 131.52 175.00 130.94 180.00 130.60 C185.00 130.25 191.67 130.41 195.00 129.76 C198.33 129.11 196.87 128.07 200.00 126.68 C203.13 125.30 209.20 122.92 213.80 121.44 C218.40 119.96 224.07 118.24 227.60 117.80 C231.13 117.37 232.52 117.94 235.00 118.83 C237.48 119.73 240.00 121.90 242.50 123.17 C245.00 124.43 247.08 125.88 250.00 126.40 C252.92 126.91 256.33 126.39 260.00 126.24 C263.67 126.09 269.33 125.40 272.00 125.49 C274.67 125.58 274.83 126.04 276.00 126.79 C277.17 127.54 278.00 128.33 279.00 129.98 C280.00 131.62 280.87 134.28 282.00 136.66 C283.13 139.05 284.47 140.41 285.80 144.27 C287.13 148.13 288.88 154.28 290.00 159.83 C291.12 165.38 291.75 171.48 292.50 177.57 C293.25 183.66 293.83 190.76 294.50 196.36 C295.17 201.96 295.75 206.89 296.50 211.15 C297.25 215.40 298.08 218.90 299.00 221.89 C299.92 224.88 301.00 227.35 302.00 229.07 C303.00 230.80 304.00 231.61 305.00 232.26 C306.00 232.92 307.00 233.04 308.00 233.00 C309.00 232.96 310.00 232.83 311.00 232.00 C312.00 231.17 313.00 230.00 314.00 228.00 C315.00 226.00 316.00 223.00 317.00 220.00 C318.00 217.00 318.83 214.00 320.00 210.00 C321.17 206.00 322.17 200.50 324.00 196.00 C325.83 191.50 328.33 188.00 331.00 183.00 C333.67 178.00 337.17 169.75 340.00 166.00 C342.83 162.25 345.17 161.70 348.00 160.50 C350.83 159.30 354.17 158.63 357.00 158.80 C359.83 158.97 362.50 160.30 365.00 161.50 C367.50 162.70 369.50 164.17 372.00 166.00 C374.50 167.83 377.67 170.67 380.00 172.50 C382.33 174.33 384.17 175.67 386.00 177.00 C387.83 178.33 389.67 179.03 391.00 180.50 C392.33 181.97 393.08 182.64 394.00 185.84 C394.92 189.04 395.67 193.59 396.50 199.71 C397.33 205.83 398.00 213.63 399.00 222.58 C400.00 231.53 401.33 244.87 402.50 253.39 C403.67 261.92 404.92 268.77 406.00 273.71 C407.08 278.65 408.00 280.84 409.00 283.05 C410.00 285.26 411.00 286.24 412.00 286.97 C413.00 287.70 413.92 287.69 415.00 287.42 C416.08 287.15 417.50 285.97 418.50 285.37 C419.50 284.77 419.08 286.69 421.00 283.83 C422.92 280.96 426.83 274.15 430.00 268.19 C433.17 262.22 437.25 253.16 440.00 248.03 C442.75 242.90 444.50 240.71 446.50 237.43 C448.50 234.15 449.75 231.38 452.00 228.34 C454.25 225.31 457.50 221.51 460.00 219.22 C462.50 216.93 464.67 215.56 467.00 214.61 C469.33 213.66 471.67 213.25 474.00 213.50 C476.33 213.75 478.67 214.49 481.00 216.11 C483.33 217.73 485.50 220.10 488.00 223.22 C490.50 226.35 493.42 231.31 496.00 234.85 C498.58 238.39 501.00 241.18 503.50 244.47 C506.00 247.76 508.25 250.96 511.00 254.59 C513.75 258.21 517.17 262.69 520.00 266.23 C522.83 269.78 525.17 272.81 528.00 275.86 C530.83 278.90 535.50 283.06 537.00 284.50" stroke="#F5A070" stroke-opacity="0.18" stroke-width="6" fill="none"/>
<path d="M68.30 290.00 C69.42 290.48 72.38 292.28 75.00 292.91 C77.62 293.54 81.17 293.66 84.00 293.79 C86.83 293.92 89.33 293.81 92.00 293.69 C94.67 293.57 98.17 294.27 100.00 293.08 C101.83 291.89 102.00 289.48 103.00 286.55 C104.00 283.62 105.00 279.02 106.00 275.51 C107.00 271.99 108.00 267.56 109.00 265.47 C110.00 263.37 111.00 262.94 112.00 262.93 C113.00 262.92 114.00 263.99 115.00 265.39 C116.00 266.79 116.83 269.03 118.00 271.35 C119.17 273.67 120.33 276.65 122.00 279.30 C123.67 281.94 126.17 285.16 128.00 287.22 C129.83 289.28 131.50 290.59 133.00 291.66 C134.50 292.72 135.83 293.79 137.00 293.60 C138.17 293.42 138.92 292.33 140.00 290.56 C141.08 288.80 142.58 287.26 143.50 283.02 C144.42 278.78 144.92 273.04 145.50 265.10 C146.08 257.17 146.50 245.31 147.00 235.42 C147.50 225.52 148.00 215.12 148.50 205.73 C149.00 196.33 149.55 186.78 150.00 179.04 C150.45 171.30 150.82 164.71 151.20 159.29 C151.58 153.87 151.95 150.11 152.30 146.52 C152.65 142.93 152.88 139.98 153.30 137.73 C153.72 135.48 154.13 134.00 154.80 133.04 C155.47 132.09 155.60 132.29 157.30 132.00 C159.00 131.71 161.22 131.63 165.00 131.30 C168.78 130.97 175.00 130.37 180.00 130.00 C185.00 129.63 191.67 129.77 195.00 129.10 C198.33 128.43 196.87 127.40 200.00 126.00 C203.13 124.60 209.20 122.20 213.80 120.70 C218.40 119.20 224.07 117.45 227.60 117.00 C231.13 116.55 232.52 117.12 235.00 118.00 C237.48 118.88 240.00 121.05 242.50 122.30 C245.00 123.55 247.08 125.00 250.00 125.50 C252.92 126.00 256.33 125.47 260.00 125.30 C263.67 125.13 269.33 124.40 272.00 124.50 C274.67 124.60 274.83 125.11 276.00 125.91 C277.17 126.71 278.00 127.57 279.00 129.28 C280.00 130.98 280.87 133.69 282.00 136.14 C283.13 138.59 284.47 140.03 285.80 143.97 C287.13 147.91 288.88 154.17 290.00 159.78 C291.12 165.40 291.75 171.54 292.50 177.67 C293.25 183.80 293.83 190.95 294.50 196.58 C295.17 202.22 295.75 207.19 296.50 211.49 C297.25 215.79 298.08 219.34 299.00 222.38 C299.92 225.42 301.00 227.96 302.00 229.75 C303.00 231.53 304.00 232.40 305.00 233.11 C306.00 233.82 307.00 234.02 308.00 234.02 C309.00 234.03 310.00 233.93 311.00 233.14 C312.00 232.35 313.00 231.22 314.00 229.26 C315.00 227.30 316.00 224.34 317.00 221.38 C318.00 218.42 318.83 215.46 320.00 211.51 C321.17 207.55 322.17 202.09 324.00 197.67 C325.83 193.24 328.33 189.84 331.00 184.95 C333.67 180.06 337.17 171.95 340.00 168.31 C342.83 164.68 345.17 164.22 348.00 163.14 C350.83 162.05 354.17 161.54 357.00 161.80 C359.83 162.06 362.50 163.47 365.00 164.70 C367.50 165.93 369.50 167.34 372.00 169.16 C374.50 170.99 377.67 173.78 380.00 175.62 C382.33 177.47 384.17 178.77 386.00 180.25 C387.83 181.73 389.67 183.01 391.00 184.50 C392.33 185.99 393.08 186.20 394.00 189.21 C394.92 192.22 395.67 196.61 396.50 202.55 C397.33 208.50 398.00 216.16 399.00 224.89 C400.00 233.63 401.33 246.70 402.50 254.97 C403.67 263.25 404.92 269.84 406.00 274.55 C407.08 279.27 408.00 281.20 409.00 283.26 C410.00 285.33 411.00 286.26 412.00 286.94 C413.00 287.62 413.92 287.63 415.00 287.34 C416.08 287.06 417.50 285.85 418.50 285.23 C419.50 284.62 419.08 286.55 421.00 283.66 C422.92 280.76 426.83 273.89 430.00 267.88 C433.17 261.86 437.25 252.73 440.00 247.56 C442.75 242.39 444.50 240.17 446.50 236.86 C448.50 233.55 449.75 230.76 452.00 227.69 C454.25 224.62 457.50 220.77 460.00 218.44 C462.50 216.11 464.67 214.71 467.00 213.72 C469.33 212.73 471.67 212.23 474.00 212.50 C476.33 212.77 478.67 213.64 481.00 215.33 C483.33 217.03 485.50 219.46 488.00 222.67 C490.50 225.87 493.42 230.92 496.00 234.55 C498.58 238.17 501.00 241.04 503.50 244.40 C506.00 247.77 508.25 251.05 511.00 254.76 C513.75 258.48 517.17 263.06 520.00 266.69 C522.83 270.33 525.17 273.44 528.00 276.57 C530.83 279.71 535.50 284.01 537.00 285.50" stroke="#8AB0E0" stroke-opacity="0.20" stroke-width="6" fill="none"/>
<path d="M68.30 289.99 C69.42 290.44 72.38 292.15 75.00 292.71 C77.62 293.27 81.17 293.28 84.00 293.33 C86.83 293.38 89.33 293.13 92.00 293.00 C94.67 292.87 98.17 293.89 100.00 292.57 C101.83 291.26 102.00 288.46 103.00 285.11 C104.00 281.75 105.00 276.49 106.00 272.46 C107.00 268.44 108.00 263.37 109.00 260.97 C110.00 258.58 111.00 258.10 112.00 258.10 C113.00 258.10 114.00 259.34 115.00 260.97 C116.00 262.60 116.83 265.19 118.00 267.87 C119.17 270.55 120.33 274.00 122.00 277.06 C123.67 280.13 126.17 283.86 128.00 286.25 C129.83 288.65 131.50 290.18 133.00 291.43 C134.50 292.67 135.83 293.92 137.00 293.72 C138.17 293.53 138.92 292.06 140.00 290.28 C141.08 288.49 142.58 287.32 143.50 283.00 C144.42 278.68 144.92 272.56 145.50 264.38 C146.08 256.21 146.50 244.08 147.00 233.92 C147.50 223.77 148.00 213.12 148.50 203.46 C149.00 193.81 149.55 184.33 150.00 176.00 C150.45 167.67 150.82 159.80 151.20 153.50 C151.58 147.20 151.95 142.60 152.30 138.21 C152.65 133.81 152.88 130.33 153.30 127.12 C153.72 123.92 154.13 120.99 154.80 119.00 C155.47 117.01 155.60 115.98 157.30 115.16 C159.00 114.33 161.22 114.37 165.00 114.06 C168.78 113.76 175.00 113.51 180.00 113.33 C185.00 113.15 191.67 113.35 195.00 113.00 C198.33 112.65 196.87 111.81 200.00 111.26 C203.13 110.71 209.20 110.41 213.80 109.70 C218.40 108.99 224.07 107.19 227.60 107.00 C231.13 106.81 232.52 107.48 235.00 108.55 C237.48 109.61 240.00 111.89 242.50 113.40 C245.00 114.91 247.08 116.98 250.00 117.60 C252.92 118.22 256.33 117.39 260.00 117.13 C263.67 116.86 269.33 116.02 272.00 116.00 C274.67 115.98 274.83 116.50 276.00 117.00 C277.17 117.50 278.00 117.83 279.00 119.00 C280.00 120.17 280.87 121.83 282.00 124.00 C283.13 126.17 284.47 127.67 285.80 132.00 C287.13 136.33 288.88 143.70 290.00 150.00 C291.12 156.30 291.75 163.08 292.50 169.79 C293.25 176.49 293.83 184.07 294.50 190.21 C295.17 196.36 295.75 201.85 296.50 206.64 C297.25 211.43 298.08 215.41 299.00 218.95 C299.92 222.49 301.00 225.57 302.00 227.88 C303.00 230.19 304.00 231.64 305.00 232.81 C306.00 233.98 307.00 234.82 308.00 234.89 C309.00 234.97 310.00 234.30 311.00 233.26 C312.00 232.21 313.00 230.83 314.00 228.62 C315.00 226.40 316.00 223.19 317.00 219.98 C318.00 216.77 318.83 213.59 320.00 209.34 C321.17 205.09 322.17 199.38 324.00 194.49 C325.83 189.60 328.33 185.44 331.00 180.00 C333.67 174.56 337.17 165.97 340.00 161.86 C342.83 157.75 345.17 156.90 348.00 155.34 C350.83 153.78 354.17 152.17 357.00 152.50 C359.83 152.83 362.50 155.76 365.00 157.30 C367.50 158.84 369.50 159.91 372.00 161.73 C374.50 163.55 377.67 166.32 380.00 168.20 C382.33 170.08 384.17 171.37 386.00 173.00 C387.83 174.63 389.67 176.10 391.00 178.00 C392.33 179.90 393.08 180.90 394.00 184.40 C394.92 187.90 395.67 192.73 396.50 198.98 C397.33 205.23 398.00 212.93 399.00 221.89 C400.00 230.86 401.33 244.23 402.50 252.77 C403.67 261.31 404.92 268.18 406.00 273.14 C407.08 278.10 408.00 280.32 409.00 282.54 C410.00 284.75 411.00 285.72 412.00 286.43 C413.00 287.15 413.92 287.12 415.00 286.83 C416.08 286.54 417.50 285.33 418.50 284.71 C419.50 284.09 419.08 286.02 421.00 283.12 C422.92 280.22 426.83 273.34 430.00 267.31 C433.17 261.29 437.25 252.15 440.00 246.97 C442.75 241.79 444.50 239.56 446.50 236.25 C448.50 232.93 449.75 230.13 452.00 227.06 C454.25 223.98 457.50 220.12 460.00 217.78 C462.50 215.45 464.67 214.04 467.00 213.04 C469.33 212.04 471.67 211.54 474.00 211.80 C476.33 212.06 478.67 212.92 481.00 214.60 C483.33 216.28 485.50 218.71 488.00 221.90 C490.50 225.09 493.42 230.13 496.00 233.74 C498.58 237.35 501.00 240.21 503.50 243.56 C506.00 246.92 508.25 250.18 511.00 253.89 C513.75 257.59 517.17 262.15 520.00 265.77 C522.83 269.39 525.17 272.49 528.00 275.61 C530.83 278.74 535.50 283.02 537.00 284.50" stroke="#9CCBF0" stroke-opacity="0.30" stroke-width="6" fill="none"/>
<path d="M68.30 280.00 C69.25 280.33 72.05 281.42 74.00 282.00 C75.95 282.58 77.67 283.42 80.00 283.50 C82.33 283.58 85.50 283.00 88.00 282.50 C90.50 282.00 93.00 281.33 95.00 280.50 C97.00 279.67 98.67 279.08 100.00 277.50 C101.33 275.92 102.17 273.92 103.00 271.00 C103.83 268.08 104.25 264.00 105.00 260.00 C105.75 256.00 106.67 250.42 107.50 247.00 C108.33 243.58 109.25 241.05 110.00 239.50 C110.75 237.95 111.33 237.62 112.00 237.70 C112.67 237.78 113.25 238.45 114.00 240.00 C114.75 241.55 115.67 245.08 116.50 247.00 C117.33 248.92 118.08 250.00 119.00 251.50 C119.92 253.00 121.00 254.45 122.00 256.00 C123.00 257.55 123.67 258.82 125.00 260.80 C126.33 262.78 128.33 265.65 130.00 267.90 C131.67 270.15 133.50 272.32 135.00 274.30 C136.50 276.28 137.92 279.10 139.00 279.80 C140.08 280.50 140.75 279.63 141.50 278.50 C142.25 277.37 142.88 276.92 143.50 273.00 C144.12 269.08 144.70 263.00 145.20 255.00 C145.70 247.00 146.07 235.83 146.50 225.00 C146.93 214.17 147.38 200.83 147.80 190.00 C148.22 179.17 148.60 170.00 149.00 160.00 C149.40 150.00 149.82 139.17 150.20 130.00 C150.58 120.83 150.92 112.67 151.30 105.00 C151.68 97.33 152.08 90.17 152.50 84.00 C152.92 77.83 153.30 72.00 153.80 68.00 C154.30 64.00 154.72 61.97 155.50 60.00 C156.28 58.03 155.25 56.62 158.50 56.20 C161.75 55.78 169.33 57.07 175.00 57.50 C180.67 57.93 189.00 58.35 192.50 58.80 C196.00 59.25 194.83 59.53 196.00 60.20 C197.17 60.87 198.33 62.07 199.50 62.80 C200.67 63.53 201.83 64.23 203.00 64.60 C204.17 64.97 205.33 65.02 206.50 65.00 C207.67 64.98 208.42 64.65 210.00 64.50 C211.58 64.35 213.17 64.38 216.00 64.10 C218.83 63.82 223.83 62.85 227.00 62.80 C230.17 62.75 232.67 62.97 235.00 63.80 C237.33 64.63 239.17 66.02 241.00 67.80 C242.83 69.58 244.33 72.67 246.00 74.50 C247.67 76.33 249.17 78.02 251.00 78.80 C252.83 79.58 254.83 79.32 257.00 79.20 C259.17 79.08 261.83 78.17 264.00 78.10 C266.17 78.03 268.00 78.40 270.00 78.80 C272.00 79.20 274.42 79.63 276.00 80.50 C277.58 81.37 278.50 82.58 279.50 84.00 C280.50 85.42 281.22 87.00 282.00 89.00 C282.78 91.00 283.37 93.17 284.20 96.00 C285.03 98.83 286.03 102.17 287.00 106.00 C287.97 109.83 289.17 114.83 290.00 119.00 C290.83 123.17 291.33 127.00 292.00 131.00 C292.67 135.00 293.42 138.17 294.00 143.00 C294.58 147.83 295.07 154.33 295.50 160.00 C295.93 165.67 296.25 171.50 296.60 177.00 C296.95 182.50 297.12 187.58 297.60 193.00 C298.08 198.42 298.93 205.42 299.50 209.50 C300.07 213.58 300.50 215.25 301.00 217.50 C301.50 219.75 301.92 221.33 302.50 223.00 C303.08 224.67 303.70 226.42 304.50 227.50 C305.30 228.58 306.30 229.33 307.30 229.50 C308.30 229.67 309.63 229.17 310.50 228.50 C311.37 227.83 311.95 226.42 312.50 225.50 C313.05 224.58 313.27 224.17 313.80 223.00 C314.33 221.83 315.07 220.08 315.70 218.50 C316.33 216.92 316.90 215.67 317.60 213.50 C318.30 211.33 319.08 208.92 319.90 205.50 C320.72 202.08 321.57 197.17 322.50 193.00 C323.43 188.83 324.58 184.08 325.50 180.50 C326.42 176.92 327.08 174.25 328.00 171.50 C328.92 168.75 329.33 168.25 331.00 164.00 C332.67 159.75 335.67 150.50 338.00 146.00 C340.33 141.50 343.00 139.00 345.00 137.00 C347.00 135.00 348.17 134.62 350.00 134.00 C351.83 133.38 353.50 132.97 356.00 133.30 C358.50 133.63 362.33 134.63 365.00 136.00 C367.67 137.37 370.33 139.92 372.00 141.50 C373.67 143.08 373.67 143.83 375.00 145.50 C376.33 147.17 378.33 149.50 380.00 151.50 C381.67 153.50 383.67 156.17 385.00 157.50 C386.33 158.83 387.00 158.95 388.00 159.50 C389.00 160.05 390.17 160.22 391.00 160.80 C391.83 161.38 392.43 161.47 393.00 163.00 C393.57 164.53 393.87 165.00 394.40 170.00 C394.93 175.00 395.52 184.67 396.20 193.00 C396.88 201.33 397.73 212.17 398.50 220.00 C399.27 227.83 400.00 234.00 400.80 240.00 C401.60 246.00 402.52 251.17 403.30 256.00 C404.08 260.83 404.75 265.25 405.50 269.00 C406.25 272.75 407.00 275.92 407.80 278.50 C408.60 281.08 409.40 283.08 410.30 284.50 C411.20 285.92 412.17 286.75 413.20 287.00 C414.23 287.25 415.20 286.75 416.50 286.00 C417.80 285.25 418.75 285.83 421.00 282.50 C423.25 279.17 426.83 272.08 430.00 266.00 C433.17 259.92 437.25 251.08 440.00 246.00 C442.75 240.92 444.50 238.75 446.50 235.50 C448.50 232.25 449.75 229.50 452.00 226.50 C454.25 223.50 457.50 219.75 460.00 217.50 C462.50 215.25 464.67 214.00 467.00 213.00 C469.33 212.00 471.67 211.33 474.00 211.50 C476.33 211.67 478.67 212.33 481.00 214.00 C483.33 215.67 485.50 218.25 488.00 221.50 C490.50 224.75 493.42 229.92 496.00 233.50 C498.58 237.08 501.00 239.83 503.50 243.00 C506.00 246.17 508.25 248.92 511.00 252.50 C513.75 256.08 517.17 260.75 520.00 264.50 C522.83 268.25 525.17 271.75 528.00 275.00 C530.83 278.25 535.50 282.50 537.00 284.00" stroke="#151515" stroke-width="2.1" fill="none" stroke-linejoin="round"/>
<path d="M68.30 277.05 C69.25 277.54 72.05 279.09 74.00 280.00 C75.95 280.91 77.67 282.25 80.00 282.50 C82.33 282.75 85.50 281.96 88.00 281.50 C90.50 281.04 93.00 280.47 95.00 279.75 C97.00 279.03 98.67 278.83 100.00 277.17 C101.33 275.51 102.17 273.11 103.00 269.81 C103.83 266.51 104.25 261.88 105.00 257.35 C105.75 252.82 106.67 246.50 107.50 242.63 C108.33 238.76 109.25 235.89 110.00 234.14 C110.75 232.38 111.33 232.01 112.00 232.10 C112.67 232.19 113.25 232.96 114.00 234.70 C114.75 236.45 115.67 240.46 116.50 242.59 C117.33 244.71 118.08 245.84 119.00 247.45 C119.92 249.07 121.00 250.61 122.00 252.28 C123.00 253.94 123.67 255.22 125.00 257.44 C126.33 259.66 128.33 262.93 130.00 265.57 C131.67 268.21 133.50 270.91 135.00 273.27 C136.50 275.64 137.92 278.90 139.00 279.77 C140.08 280.64 140.75 279.63 141.50 278.49 C142.25 277.35 142.88 276.95 143.50 272.95 C144.12 268.95 144.70 262.62 145.20 254.49 C145.70 246.35 146.07 235.09 146.50 224.14 C146.93 213.19 147.38 199.73 147.80 188.79 C148.22 177.84 148.60 168.57 149.00 158.46 C149.40 148.35 149.82 137.41 150.20 128.14 C150.58 118.87 150.92 110.61 151.30 102.84 C151.68 95.07 152.08 87.80 152.50 81.52 C152.92 75.24 153.30 69.30 153.80 65.17 C154.30 61.03 154.72 58.89 155.50 56.71 C156.28 54.53 155.25 52.62 158.50 52.10 C161.75 51.58 169.33 53.09 175.00 53.59 C180.67 54.09 189.00 54.63 192.50 55.10 C196.00 55.57 194.83 55.78 196.00 56.43 C197.17 57.07 198.33 58.24 199.50 58.95 C200.67 59.66 201.83 60.33 203.00 60.68 C204.17 61.02 205.33 61.04 206.50 61.00 C207.67 60.96 208.42 60.61 210.00 60.43 C211.58 60.24 213.17 60.25 216.00 59.90 C218.83 59.55 223.83 58.27 227.00 58.30 C230.17 58.33 232.67 59.03 235.00 60.10 C237.33 61.17 239.17 62.93 241.00 64.70 C242.83 66.47 244.33 69.10 246.00 70.70 C247.67 72.30 249.17 73.63 251.00 74.30 C252.83 74.97 254.83 74.82 257.00 74.70 C259.17 74.58 261.83 73.67 264.00 73.60 C266.17 73.53 268.00 73.83 270.00 74.30 C272.00 74.77 274.42 75.37 276.00 76.44 C277.58 77.51 278.50 79.08 279.50 80.72 C280.50 82.36 281.22 84.14 282.00 86.28 C282.78 88.42 283.37 90.66 284.20 93.57 C285.03 96.47 286.03 99.84 287.00 103.72 C287.97 107.61 289.17 112.68 290.00 116.89 C290.83 121.10 291.33 125.21 292.00 129.00 C292.67 132.79 293.42 135.17 294.00 139.60 C294.58 144.03 295.07 150.19 295.50 155.55 C295.93 160.91 296.25 166.47 296.60 171.78 C296.95 177.09 297.12 182.11 297.60 187.44 C298.08 192.76 298.93 199.71 299.50 203.74 C300.07 207.76 300.50 209.38 301.00 211.58 C301.50 213.78 301.92 215.32 302.50 216.92 C303.08 218.53 303.70 220.21 304.50 221.21 C305.30 222.21 306.30 222.78 307.30 222.92 C308.30 223.06 309.63 222.69 310.50 222.06 C311.37 221.43 311.95 220.05 312.50 219.17 C313.05 218.28 313.27 217.88 313.80 216.74 C314.33 215.59 315.07 213.88 315.70 212.32 C316.33 210.76 316.90 209.52 317.60 207.37 C318.30 205.22 319.08 202.83 319.90 199.43 C320.72 196.04 321.57 191.17 322.50 187.00 C323.43 182.83 324.58 178.03 325.50 174.42 C326.42 170.82 327.08 168.13 328.00 165.36 C328.92 162.59 329.33 162.07 331.00 157.78 C332.67 153.49 335.67 144.16 338.00 139.60 C340.33 135.05 343.00 132.49 345.00 130.45 C347.00 128.42 348.17 128.02 350.00 127.38 C351.83 126.73 353.50 126.28 356.00 126.60 C358.50 126.92 362.33 127.81 365.00 129.30 C367.67 130.80 370.33 133.80 372.00 135.57 C373.67 137.34 373.67 138.13 375.00 139.90 C376.33 141.67 378.33 144.10 380.00 146.20 C381.67 148.30 383.67 151.09 385.00 152.50 C386.33 153.91 387.00 154.05 388.00 154.65 C389.00 155.25 390.17 155.38 391.00 156.10 C391.83 156.82 392.43 157.25 393.00 158.98 C393.57 160.71 393.87 161.28 394.40 166.46 C394.93 171.63 395.52 181.57 396.20 190.01 C396.88 198.45 397.73 209.23 398.50 217.09 C399.27 224.95 400.00 231.14 400.80 237.17 C401.60 243.20 402.52 248.40 403.30 253.26 C404.08 258.12 404.75 262.56 405.50 266.34 C406.25 270.12 407.00 273.31 407.80 275.92 C408.60 278.53 409.40 280.56 410.30 282.01 C411.20 283.47 412.17 284.36 413.20 284.66 C414.23 284.96 415.20 284.51 416.50 283.82 C417.80 283.14 418.75 283.77 421.00 280.55 C423.25 277.33 426.83 270.49 430.00 264.50 C433.17 258.51 437.25 249.67 440.00 244.61 C442.75 239.56 444.50 237.41 446.50 234.19 C448.50 230.96 449.75 228.22 452.00 225.25 C454.25 222.28 457.50 218.56 460.00 216.34 C462.50 214.12 464.67 212.89 467.00 211.92 C469.33 210.95 471.67 210.32 474.00 210.50 C476.33 210.68 478.67 211.33 481.00 213.00 C483.33 214.67 485.50 217.25 488.00 220.50 C490.50 223.75 493.42 228.92 496.00 232.50 C498.58 236.08 501.00 238.83 503.50 242.00 C506.00 245.17 508.25 247.92 511.00 251.50 C513.75 255.08 517.17 259.75 520.00 263.50 C522.83 267.25 525.17 270.75 528.00 274.00 C530.83 277.25 535.50 281.50 537.00 283.00" stroke="#D9980F" stroke-width="2.1" fill="none" stroke-linejoin="round"/>
<path d="M68.30 281.99 C69.25 282.31 72.05 283.33 74.00 283.88 C75.95 284.42 77.67 285.22 80.00 285.25 C82.33 285.28 85.50 284.77 88.00 284.08 C90.50 283.40 93.00 282.38 95.00 281.15 C97.00 279.93 98.67 278.89 100.00 276.74 C101.33 274.60 102.17 272.08 103.00 268.28 C103.83 264.48 104.25 259.16 105.00 253.95 C105.75 248.74 106.67 241.46 107.50 237.01 C108.33 232.56 109.25 229.26 110.00 227.24 C110.75 225.23 111.33 224.79 112.00 224.90 C112.67 225.01 113.25 225.89 114.00 227.90 C114.75 229.90 115.67 234.52 116.50 236.92 C117.33 239.33 118.08 240.54 119.00 242.33 C119.92 244.12 121.00 245.81 122.00 247.65 C123.00 249.48 123.67 250.83 125.00 253.35 C126.33 255.88 128.33 259.67 130.00 262.78 C131.67 265.90 133.50 269.20 135.00 272.03 C136.50 274.86 137.92 278.67 139.00 279.74 C140.08 280.81 140.75 279.59 141.50 278.47 C142.25 277.36 142.88 276.90 143.50 273.03 C144.12 269.16 144.70 263.18 145.20 255.25 C145.70 247.32 146.07 236.20 146.50 225.42 C146.93 214.64 147.38 201.37 147.80 190.59 C148.22 179.81 148.60 170.70 149.00 160.75 C149.40 150.80 149.82 140.02 150.20 130.91 C150.58 121.79 150.92 113.67 151.30 106.05 C151.68 98.44 152.08 91.32 152.50 85.21 C152.92 79.10 153.30 73.32 153.80 69.38 C154.30 65.45 154.72 63.47 155.50 61.61 C156.28 59.74 155.25 58.34 158.50 58.20 C161.75 58.06 169.33 59.90 175.00 60.76 C180.67 61.63 189.00 62.70 192.50 63.40 C196.00 64.10 194.83 64.22 196.00 64.93 C197.17 65.65 198.33 66.89 199.50 67.67 C200.67 68.45 201.83 69.19 203.00 69.60 C204.17 70.01 205.33 70.11 206.50 70.14 C207.67 70.16 208.42 69.86 210.00 69.77 C211.58 69.68 213.17 69.85 216.00 69.60 C218.83 69.35 223.83 68.35 227.00 68.30 C230.17 68.25 232.67 68.47 235.00 69.30 C237.33 70.13 239.17 71.56 241.00 73.30 C242.83 75.04 244.33 78.00 246.00 79.75 C247.67 81.50 249.17 83.10 251.00 83.80 C252.83 84.50 254.83 84.15 257.00 83.94 C259.17 83.73 261.83 82.70 264.00 82.53 C266.17 82.37 268.00 82.72 270.00 82.97 C272.00 83.23 274.42 83.42 276.00 84.06 C277.58 84.69 278.50 85.58 279.50 86.78 C280.50 87.97 281.22 89.37 282.00 91.22 C282.78 93.07 283.37 95.16 284.20 97.89 C285.03 100.63 286.03 103.90 287.00 107.65 C287.97 111.40 289.17 116.29 290.00 120.38 C290.83 124.48 291.33 128.26 292.00 132.21 C292.67 136.15 293.42 139.25 294.00 144.03 C294.58 148.81 295.07 155.27 295.50 160.90 C295.93 166.53 296.25 172.33 296.60 177.80 C296.95 183.27 297.12 188.34 297.60 193.71 C298.08 199.09 298.93 206.01 299.50 210.04 C300.07 214.08 300.50 215.72 301.00 217.93 C301.50 220.15 301.92 221.71 302.50 223.33 C303.08 224.96 303.70 226.67 304.50 227.70 C305.30 228.73 306.30 229.38 307.30 229.51 C308.30 229.65 309.63 229.17 310.50 228.50 C311.37 227.83 311.95 226.42 312.50 225.50 C313.05 224.58 313.27 224.17 313.80 223.00 C314.33 221.83 315.07 220.08 315.70 218.50 C316.33 216.92 316.90 215.67 317.60 213.50 C318.30 211.33 319.08 208.92 319.90 205.50 C320.72 202.08 321.57 197.17 322.50 193.00 C323.43 188.83 324.58 184.08 325.50 180.50 C326.42 176.92 327.08 174.25 328.00 171.50 C328.92 168.75 329.33 168.25 331.00 164.00 C332.67 159.75 335.67 150.50 338.00 146.00 C340.33 141.50 343.00 139.00 345.00 137.00 C347.00 135.00 348.17 134.62 350.00 134.00 C351.83 133.38 353.50 132.97 356.00 133.30 C358.50 133.63 362.33 134.63 365.00 136.00 C367.67 137.37 370.33 139.92 372.00 141.50 C373.67 143.08 373.67 143.83 375.00 145.50 C376.33 147.17 378.33 149.50 380.00 151.50 C381.67 153.50 383.67 156.17 385.00 157.50 C386.33 158.83 387.00 158.95 388.00 159.50 C389.00 160.05 390.17 160.22 391.00 160.80 C391.83 161.38 392.43 161.47 393.00 163.00 C393.57 164.53 393.87 165.00 394.40 170.00 C394.93 175.00 395.52 184.67 396.20 193.00 C396.88 201.33 397.73 212.17 398.50 220.00 C399.27 227.83 400.00 234.00 400.80 240.00 C401.60 246.00 402.52 251.17 403.30 256.00 C404.08 260.83 404.75 265.25 405.50 269.00 C406.25 272.75 407.00 275.92 407.80 278.50 C408.60 281.08 409.40 283.10 410.30 284.48 C411.20 285.86 412.17 286.60 413.20 286.77 C414.23 286.95 415.20 286.38 416.50 285.54 C417.80 284.70 418.75 285.22 421.00 281.73 C423.25 278.24 426.83 270.90 430.00 264.59 C433.17 258.29 437.25 249.17 440.00 243.89 C442.75 238.61 444.50 236.32 446.50 232.93 C448.50 229.54 449.75 226.71 452.00 223.55 C454.25 220.39 457.50 216.41 460.00 213.98 C462.50 211.56 464.67 210.16 467.00 208.99 C469.33 207.83 471.67 206.86 474.00 207.00 C476.33 207.14 478.67 208.06 481.00 209.83 C483.33 211.61 485.50 214.30 488.00 217.67 C490.50 221.04 493.42 226.34 496.00 230.05 C498.58 233.75 501.00 236.62 503.50 239.90 C506.00 243.19 508.25 246.05 511.00 249.76 C513.75 253.48 517.17 258.31 520.00 262.19 C522.83 266.08 525.17 269.69 528.00 273.07 C530.83 276.46 535.50 280.93 537.00 282.50" stroke="#EA5F1C" stroke-width="2.1" fill="none" stroke-linejoin="round"/>
<path d="M68.30 280.99 C69.25 281.28 72.05 282.25 74.00 282.75 C75.95 283.25 77.67 284.01 80.00 284.00 C82.33 283.99 85.50 283.26 88.00 282.67 C90.50 282.08 93.00 281.34 95.00 280.46 C97.00 279.58 98.67 279.04 100.00 277.40 C101.33 275.76 102.17 273.67 103.00 270.64 C103.83 267.60 104.25 263.36 105.00 259.20 C105.75 255.04 106.67 249.23 107.50 245.67 C108.33 242.12 109.25 239.48 110.00 237.87 C110.75 236.26 111.33 235.91 112.00 236.00 C112.67 236.09 113.25 236.80 114.00 238.39 C114.75 239.99 115.67 243.68 116.50 245.56 C117.33 247.44 118.08 248.32 119.00 249.67 C119.92 251.02 121.00 252.29 122.00 253.67 C123.00 255.06 123.67 256.00 125.00 257.98 C126.33 259.97 128.33 263.03 130.00 265.60 C131.67 268.16 133.50 271.02 135.00 273.39 C136.50 275.76 137.92 278.94 139.00 279.79 C140.08 280.64 140.75 279.66 141.50 278.50 C142.25 277.34 142.88 277.01 143.50 272.84 C144.12 268.66 144.70 261.86 145.20 253.46 C145.70 245.05 146.07 233.63 146.50 222.41 C146.93 211.19 147.38 197.40 147.80 186.14 C148.22 174.88 148.60 165.27 149.00 154.84 C149.40 144.41 149.82 133.13 150.20 123.55 C150.58 113.97 150.92 105.44 151.30 97.36 C151.68 89.28 152.08 81.69 152.50 75.07 C152.92 68.45 153.30 62.21 153.80 57.67 C154.30 53.13 154.72 50.65 155.50 47.83 C156.28 45.02 155.25 41.84 158.50 40.80 C161.75 39.76 169.33 41.35 175.00 41.61 C180.67 41.88 189.00 41.94 192.50 42.40 C196.00 42.86 194.83 43.48 196.00 44.37 C197.17 45.27 198.33 46.72 199.50 47.76 C200.67 48.81 201.83 50.23 203.00 50.65 C204.17 51.06 205.33 50.63 206.50 50.27 C207.67 49.92 208.42 49.36 210.00 48.50 C211.58 47.64 213.17 45.95 216.00 45.10 C218.83 44.25 223.83 43.42 227.00 43.40 C230.17 43.38 232.67 43.18 235.00 45.00 C237.33 46.82 239.17 51.03 241.00 54.30 C242.83 57.57 244.33 61.88 246.00 64.62 C247.67 67.38 249.17 69.90 251.00 70.80 C252.83 71.70 254.83 70.58 257.00 70.05 C259.17 69.51 261.83 67.74 264.00 67.60 C266.17 67.46 268.00 68.33 270.00 69.20 C272.00 70.07 274.42 71.26 276.00 72.83 C277.58 74.41 278.50 76.63 279.50 78.67 C280.50 80.71 281.22 82.64 282.00 85.07 C282.78 87.50 283.37 89.96 284.20 93.24 C285.03 96.52 286.03 100.50 287.00 104.73 C287.97 108.97 289.17 114.26 290.00 118.67 C290.83 123.08 291.33 127.02 292.00 131.20 C292.67 135.38 293.42 138.73 294.00 143.73 C294.58 148.73 295.07 155.38 295.50 161.20 C295.93 167.02 296.25 173.00 296.60 178.64 C296.95 184.28 297.12 189.43 297.60 195.04 C298.08 200.65 298.93 207.77 299.50 212.30 C300.07 216.84 300.50 219.24 301.00 222.25 C301.50 225.26 301.92 227.65 302.50 230.38 C303.08 233.10 303.70 235.87 304.50 238.62 C305.30 241.38 306.30 245.31 307.30 246.93 C308.30 248.54 309.63 248.63 310.50 248.33 C311.37 248.03 311.95 246.13 312.50 245.12 C313.05 244.12 313.27 243.69 313.80 242.30 C314.33 240.91 315.07 238.87 315.70 236.80 C316.33 234.73 316.90 232.77 317.60 229.90 C318.30 227.03 319.08 223.63 319.90 219.60 C320.72 215.58 321.57 210.31 322.50 205.75 C323.43 201.19 324.58 196.07 325.50 192.25 C326.42 188.43 327.08 185.74 328.00 182.83 C328.92 179.93 329.33 179.36 331.00 174.83 C332.67 170.31 335.67 160.48 338.00 155.67 C340.33 150.85 343.00 148.07 345.00 145.93 C347.00 143.79 348.17 143.48 350.00 142.82 C351.83 142.15 353.50 141.72 356.00 141.95 C358.50 142.18 362.33 143.05 365.00 144.20 C367.67 145.35 370.33 147.48 372.00 148.86 C373.67 150.24 373.67 150.31 375.00 152.50 C376.33 154.69 378.33 158.83 380.00 162.00 C381.67 165.17 383.67 169.40 385.00 171.50 C386.33 173.60 387.00 173.68 388.00 174.60 C389.00 175.52 390.17 176.78 391.00 177.00 C391.83 177.22 392.43 175.32 393.00 175.92 C393.57 176.52 393.87 176.45 394.40 180.62 C394.93 184.80 395.52 193.13 396.20 200.97 C396.88 208.81 397.73 219.92 398.50 227.64 C399.27 235.37 400.00 241.43 400.80 247.31 C401.60 253.20 402.52 258.24 403.30 262.96 C404.08 267.68 404.75 272.00 405.50 275.64 C406.25 279.29 407.00 282.32 407.80 284.81 C408.60 287.31 409.40 289.04 410.30 290.62 C411.20 292.20 412.17 293.62 413.20 294.28 C414.23 294.94 415.20 294.83 416.50 294.60 C417.80 294.37 418.75 295.33 421.00 292.90 C423.25 290.47 426.83 285.15 430.00 280.00 C433.17 274.85 437.25 266.53 440.00 262.00 C442.75 257.47 444.50 255.74 446.50 252.80 C448.50 249.86 449.75 247.36 452.00 244.38 C454.25 241.39 457.50 237.28 460.00 234.88 C462.50 232.47 464.67 231.08 467.00 229.94 C469.33 228.79 471.67 227.88 474.00 228.00 C476.33 228.12 478.67 228.94 481.00 230.67 C483.33 232.39 485.50 235.06 488.00 238.33 C490.50 241.61 493.42 246.97 496.00 250.30 C498.58 253.63 501.00 255.63 503.50 258.30 C506.00 260.97 508.25 263.33 511.00 266.30 C513.75 269.27 517.17 273.11 520.00 276.14 C522.83 279.16 525.17 281.98 528.00 284.45 C530.83 286.93 535.50 289.91 537.00 291.00" stroke="#2E8B2E" stroke-width="2.1" fill="none" stroke-linejoin="round"/>
<path d="M68.30 278.01 C69.25 278.39 72.05 279.59 74.00 280.25 C75.95 280.91 77.67 281.82 80.00 282.00 C82.33 282.18 85.50 281.72 88.00 281.33 C90.50 280.95 93.00 280.41 95.00 279.68 C97.00 278.95 98.67 278.74 100.00 276.98 C101.33 275.22 102.17 272.65 103.00 269.13 C103.83 265.60 104.25 260.67 105.00 255.84 C105.75 251.01 106.67 244.26 107.50 240.13 C108.33 236.01 109.25 232.95 110.00 231.07 C110.75 229.20 111.33 228.80 112.00 228.90 C112.67 229.00 113.25 229.83 114.00 231.68 C114.75 233.53 115.67 237.82 116.50 240.00 C117.33 242.18 118.08 243.19 119.00 244.75 C119.92 246.31 121.00 247.77 122.00 249.37 C123.00 250.97 123.67 252.05 125.00 254.35 C126.33 256.66 128.33 260.21 130.00 263.20 C131.67 266.19 133.50 269.54 135.00 272.30 C136.50 275.06 137.92 278.73 139.00 279.76 C140.08 280.79 140.75 279.61 141.50 278.48 C142.25 277.35 142.88 276.93 143.50 272.98 C144.12 269.03 144.70 262.85 145.20 254.80 C145.70 246.75 146.07 235.54 146.50 224.66 C146.93 213.78 147.38 200.40 147.80 189.53 C148.22 178.65 148.60 169.44 149.00 159.40 C149.40 149.36 149.82 138.48 150.20 129.27 C150.58 120.07 150.92 111.86 151.30 104.16 C151.68 96.45 152.08 89.24 152.50 83.03 C152.92 76.82 153.30 70.95 153.80 66.89 C154.30 62.84 154.72 60.76 155.50 58.72 C156.28 56.67 155.25 55.07 158.50 54.60 C161.75 54.13 169.33 55.47 175.00 55.90 C180.67 56.33 189.00 56.75 192.50 57.20 C196.00 57.65 194.83 57.94 196.00 58.61 C197.17 59.29 198.33 60.49 199.50 61.23 C200.67 61.97 201.83 62.67 203.00 63.04 C204.17 63.42 205.33 63.47 206.50 63.46 C207.67 63.45 208.42 63.12 210.00 62.97 C211.58 62.83 213.17 62.89 216.00 62.60 C218.83 62.31 223.83 61.28 227.00 61.21 C230.17 61.13 232.67 61.32 235.00 62.14 C237.33 62.95 239.17 64.32 241.00 66.09 C242.83 67.85 244.33 70.92 246.00 72.74 C247.67 74.56 249.17 76.20 251.00 77.00 C252.83 77.80 254.83 77.62 257.00 77.56 C259.17 77.50 261.83 76.65 264.00 76.64 C266.17 76.63 268.00 77.07 270.00 77.50 C272.00 77.92 274.42 78.36 276.00 79.19 C277.58 80.03 278.50 81.14 279.50 82.50 C280.50 83.87 281.22 85.41 282.00 87.37 C282.78 89.33 283.37 91.46 284.20 94.25 C285.03 97.04 286.03 100.32 287.00 104.10 C287.97 107.88 289.17 112.82 290.00 116.94 C290.83 121.06 291.33 124.87 292.00 128.83 C292.67 132.80 293.42 135.92 294.00 140.73 C294.58 145.53 295.07 152.00 295.50 157.64 C295.93 163.29 296.25 169.10 296.60 174.59 C296.95 180.07 297.12 185.14 297.60 190.53 C298.08 195.92 298.93 202.88 299.50 206.93 C300.07 210.98 300.50 212.63 301.00 214.85 C301.50 217.07 301.92 218.63 302.50 220.27 C303.08 221.90 303.70 223.62 304.50 224.66 C305.30 225.70 306.30 226.36 307.30 226.51 C308.30 226.67 309.63 226.23 310.50 225.59 C311.37 224.95 311.95 223.55 312.50 222.65 C313.05 221.75 313.27 221.34 313.80 220.19 C314.33 219.04 315.07 217.31 315.70 215.75 C316.33 214.18 316.90 212.95 317.60 210.81 C318.30 208.66 319.08 206.27 319.90 202.88 C320.72 199.48 321.57 194.59 322.50 190.45 C323.43 186.32 324.58 181.60 325.50 178.05 C326.42 174.49 327.08 171.84 328.00 169.12 C328.92 166.40 329.33 165.91 331.00 161.71 C332.67 157.51 335.67 148.35 338.00 143.92 C340.33 139.49 343.00 137.08 345.00 135.14 C347.00 133.20 348.17 132.85 350.00 132.29 C351.83 131.73 353.50 131.40 356.00 131.77 C358.50 132.14 362.33 133.13 365.00 134.50 C367.67 135.87 370.33 138.42 372.00 140.00 C373.67 141.58 373.67 142.33 375.00 144.00 C376.33 145.67 378.33 148.00 380.00 150.00 C381.67 152.00 383.67 154.67 385.00 156.00 C386.33 157.33 387.00 157.45 388.00 158.00 C389.00 158.55 390.17 158.69 391.00 159.30 C391.83 159.91 392.43 160.08 393.00 161.66 C393.57 163.24 393.87 163.73 394.40 168.77 C394.93 173.81 395.52 183.52 396.20 191.91 C396.88 200.30 397.73 211.20 398.50 219.09 C399.27 226.99 400.00 233.21 400.80 239.27 C401.60 245.34 402.52 250.58 403.30 255.47 C404.08 260.37 404.75 264.84 405.50 268.64 C406.25 272.45 407.00 275.69 407.80 278.33 C408.60 280.97 409.40 283.06 410.30 284.49 C411.20 285.92 412.17 286.68 413.20 286.90 C414.23 287.12 415.20 286.59 416.50 285.80 C417.80 285.01 418.75 285.56 421.00 282.16 C423.25 278.75 426.83 271.56 430.00 265.38 C433.17 259.19 437.25 250.23 440.00 245.06 C442.75 239.89 444.50 237.67 446.50 234.36 C448.50 231.05 449.75 228.26 452.00 225.19 C454.25 222.12 457.50 218.27 460.00 215.94 C462.50 213.61 464.67 212.29 467.00 211.22 C469.33 210.15 471.67 209.33 474.00 209.50 C476.33 209.67 478.67 210.48 481.00 212.22 C483.33 213.96 485.50 216.62 488.00 219.94 C490.50 223.27 493.42 228.53 496.00 232.20 C498.58 235.86 501.00 238.69 503.50 241.94 C506.00 245.18 508.25 248.00 511.00 251.67 C513.75 255.35 517.17 260.12 520.00 263.96 C522.83 267.80 525.17 271.37 528.00 274.71 C530.83 278.05 535.50 282.45 537.00 284.00" stroke="#1F56A3" stroke-width="2.1" fill="none" stroke-linejoin="round"/>
<path d="M68.30 281.49 C69.25 281.78 72.05 282.75 74.00 283.25 C75.95 283.75 77.67 284.51 80.00 284.50 C82.33 284.49 85.50 283.86 88.00 283.17 C90.50 282.47 93.00 281.48 95.00 280.32 C97.00 279.15 98.67 278.53 100.00 276.18 C101.33 273.84 102.17 270.71 103.00 266.26 C103.83 261.80 104.25 255.57 105.00 249.46 C105.75 243.35 106.67 234.82 107.50 229.60 C108.33 224.38 109.25 220.52 110.00 218.15 C110.75 215.78 111.33 215.27 112.00 215.40 C112.67 215.53 113.25 216.58 114.00 218.91 C114.75 221.25 115.67 226.68 116.50 229.42 C117.33 232.17 118.08 233.43 119.00 235.38 C119.92 237.34 121.00 239.16 122.00 241.17 C123.00 243.17 123.67 244.50 125.00 247.41 C126.33 250.31 128.33 254.81 130.00 258.61 C131.67 262.41 133.50 266.69 135.00 270.20 C136.50 273.72 137.92 278.32 139.00 279.69 C140.08 281.07 140.75 279.57 141.50 278.46 C142.25 277.34 142.88 276.89 143.50 273.03 C144.12 269.16 144.70 263.19 145.20 255.26 C145.70 247.33 146.07 236.22 146.50 225.44 C146.93 214.67 147.38 201.40 147.80 190.62 C148.22 179.85 148.60 170.73 149.00 160.79 C149.40 150.84 149.82 140.07 150.20 130.95 C150.58 121.84 150.92 113.72 151.30 106.11 C151.68 98.49 152.08 91.38 152.50 85.27 C152.92 79.16 153.30 73.38 153.80 69.45 C154.30 65.52 154.72 63.54 155.50 61.69 C156.28 59.83 155.25 58.48 158.50 58.30 C161.75 58.12 169.33 59.84 175.00 60.62 C180.67 61.40 189.00 62.37 192.50 63.00 C196.00 63.63 194.83 63.71 196.00 64.37 C197.17 65.03 198.33 66.22 199.50 66.94 C200.67 67.66 201.83 68.35 203.00 68.71 C204.17 69.07 205.33 69.11 206.50 69.08 C207.67 69.05 208.42 68.71 210.00 68.55 C211.58 68.39 213.17 68.44 216.00 68.10 C218.83 67.76 223.83 66.63 227.00 66.49 C230.17 66.35 232.67 66.49 235.00 67.26 C237.33 68.02 239.17 69.35 241.00 71.09 C242.83 72.82 244.33 75.86 246.00 77.64 C247.67 79.43 249.17 81.08 251.00 81.80 C252.83 82.52 254.83 82.15 257.00 81.94 C259.17 81.73 261.83 80.70 264.00 80.53 C266.17 80.37 268.00 80.72 270.00 80.97 C272.00 81.23 274.42 81.42 276.00 82.06 C277.58 82.69 278.50 83.58 279.50 84.78 C280.50 85.97 281.22 87.40 282.00 89.22 C282.78 91.05 283.37 93.09 284.20 95.73 C285.03 98.38 286.03 101.49 287.00 105.11 C287.97 108.73 289.17 113.46 290.00 117.44 C290.83 121.43 291.33 125.21 292.00 129.00 C292.67 132.79 293.42 135.60 294.00 140.20 C294.58 144.80 295.07 151.11 295.50 156.60 C295.93 162.09 296.25 167.77 296.60 173.16 C296.95 178.55 297.12 183.58 297.60 188.91 C298.08 194.24 298.93 201.14 299.50 205.14 C300.07 209.15 300.50 210.75 301.00 212.93 C301.50 215.11 301.92 216.63 302.50 218.21 C303.08 219.80 303.70 221.46 304.50 222.43 C305.30 223.40 306.30 223.90 307.30 224.03 C308.30 224.16 309.63 223.82 310.50 223.20 C311.37 222.58 311.95 221.21 312.50 220.33 C313.05 219.45 313.27 219.05 313.80 217.92 C314.33 216.79 315.07 215.09 315.70 213.54 C316.33 212.00 316.90 210.79 317.60 208.66 C318.30 206.54 319.08 204.17 319.90 200.81 C320.72 197.44 321.57 192.58 322.50 188.47 C323.43 184.36 324.58 179.68 325.50 176.16 C326.42 172.63 327.08 170.01 328.00 167.31 C328.92 164.62 329.33 164.19 331.00 160.00 C332.67 155.81 335.67 146.60 338.00 142.15 C340.33 137.69 343.00 135.25 345.00 133.29 C347.00 131.33 348.17 130.98 350.00 130.40 C351.83 129.81 353.50 129.45 356.00 129.80 C358.50 130.15 362.33 131.07 365.00 132.50 C367.67 133.93 370.33 136.68 372.00 138.35 C373.67 140.02 373.67 140.75 375.00 142.50 C376.33 144.25 378.33 146.73 380.00 148.85 C381.67 150.97 383.67 153.83 385.00 155.20 C386.33 156.57 387.00 156.55 388.00 157.05 C389.00 157.55 390.17 157.63 391.00 158.20 C391.83 158.77 392.43 158.91 393.00 160.46 C393.57 162.01 393.87 162.49 394.40 167.51 C394.93 172.52 395.52 182.21 396.20 190.56 C396.88 198.92 397.73 209.78 398.50 217.64 C399.27 225.49 400.00 231.68 400.80 237.71 C401.60 243.73 402.52 248.93 403.30 253.79 C404.08 258.65 404.75 263.08 405.50 266.86 C406.25 270.63 407.00 273.83 407.80 276.43 C408.60 279.03 409.40 281.09 410.30 282.48 C411.20 283.86 412.17 284.58 413.20 284.75 C414.23 284.92 415.20 284.34 416.50 283.49 C417.80 282.64 418.75 283.15 421.00 279.64 C423.25 276.13 426.83 268.77 430.00 262.44 C433.17 256.11 437.25 246.95 440.00 241.66 C442.75 236.36 444.50 234.05 446.50 230.65 C448.50 227.24 449.75 224.39 452.00 221.22 C454.25 218.04 457.50 214.04 460.00 211.59 C462.50 209.15 464.67 207.73 467.00 206.55 C469.33 205.36 471.67 204.32 474.00 204.50 C476.33 204.68 478.67 205.74 481.00 207.61 C483.33 209.48 485.50 212.25 488.00 215.72 C490.50 219.19 493.42 224.61 496.00 228.42 C498.58 232.23 501.00 235.19 503.50 238.58 C506.00 241.96 508.25 244.91 511.00 248.73 C513.75 252.55 517.17 257.52 520.00 261.52 C522.83 265.51 525.17 269.22 528.00 272.71 C530.83 276.21 535.50 280.87 537.00 282.50" stroke="#93C4EC" stroke-width="2.1" fill="none" stroke-linejoin="round"/>
<path d="M68.30 273.20 C69.25 274.17 72.05 277.12 74.00 279.00 C75.95 280.88 77.67 283.64 80.00 284.50 C82.33 285.36 85.50 284.56 88.00 284.17 C90.50 283.77 93.00 283.07 95.00 282.12 C97.00 281.18 98.67 279.75 100.00 278.49 C101.33 277.23 102.17 276.33 103.00 274.57 C103.83 272.82 104.25 270.35 105.00 267.94 C105.75 265.53 106.67 262.17 107.50 260.11 C108.33 258.05 109.25 256.52 110.00 255.59 C110.75 254.65 111.33 254.45 112.00 254.50 C112.67 254.55 113.25 254.95 114.00 255.89 C114.75 256.82 115.67 258.95 116.50 260.11 C117.33 261.26 118.08 261.91 119.00 262.82 C119.92 263.72 121.00 264.60 122.00 265.53 C123.00 266.47 123.67 267.23 125.00 268.43 C126.33 269.62 128.33 271.35 130.00 272.71 C131.67 274.06 133.50 275.37 135.00 276.56 C136.50 277.76 137.92 279.26 139.00 279.88 C140.08 280.50 140.75 280.92 141.50 280.28 C142.25 279.64 142.88 279.68 143.50 276.05 C144.12 272.43 144.70 266.38 145.20 258.51 C145.70 250.65 146.07 239.61 146.50 228.86 C146.93 218.12 147.38 204.83 147.80 194.03 C148.22 183.23 148.60 174.06 149.00 164.07 C149.40 154.08 149.82 143.26 150.20 134.11 C150.58 124.96 150.92 116.80 151.30 109.15 C151.68 101.50 152.08 94.34 152.50 88.19 C152.92 82.04 153.30 76.22 153.80 72.24 C154.30 68.25 154.72 66.24 155.50 64.30 C156.28 62.36 155.25 61.21 158.50 60.60 C161.75 59.99 169.33 60.64 175.00 60.64 C180.67 60.64 189.00 60.52 192.50 60.60 C196.00 60.68 194.83 60.74 196.00 61.11 C197.17 61.48 198.33 62.38 199.50 62.82 C200.67 63.25 201.83 63.53 203.00 63.73 C204.17 63.92 205.33 64.04 206.50 64.00 C207.67 63.96 208.42 63.65 210.00 63.50 C211.58 63.35 213.17 63.31 216.00 63.10 C218.83 62.89 223.83 62.16 227.00 62.24 C230.17 62.32 232.67 62.63 235.00 63.56 C237.33 64.49 239.17 65.83 241.00 67.80 C242.83 69.77 244.33 73.23 246.00 75.35 C247.67 77.47 249.17 79.61 251.00 80.50 C252.83 81.39 254.83 80.90 257.00 80.72 C259.17 80.53 261.83 79.54 264.00 79.40 C266.17 79.27 268.00 79.65 270.00 79.92 C272.00 80.20 274.42 80.41 276.00 81.06 C277.58 81.70 278.50 82.58 279.50 83.78 C280.50 84.97 281.22 86.33 282.00 88.22 C282.78 90.11 283.37 92.26 284.20 95.13 C285.03 98.00 286.03 101.50 287.00 105.44 C287.97 109.39 289.17 114.52 290.00 118.78 C290.83 123.04 291.33 126.80 292.00 131.00 C292.67 135.20 293.42 138.88 294.00 144.00 C294.58 149.12 295.07 155.87 295.50 161.75 C295.93 167.63 296.25 173.62 296.60 179.30 C296.95 184.98 297.12 190.14 297.60 195.80 C298.08 201.46 298.93 208.79 299.50 213.25 C300.07 217.71 300.50 219.83 301.00 222.57 C301.50 225.30 301.92 227.38 302.50 229.67 C303.08 231.96 303.70 234.36 304.50 236.30 C305.30 238.24 306.30 240.79 307.30 241.29 C308.30 241.79 309.63 240.26 310.50 239.30 C311.37 238.34 311.95 236.64 312.50 235.50 C313.05 234.36 313.27 233.86 313.80 232.48 C314.33 231.10 315.07 229.06 315.70 227.22 C316.33 225.38 316.90 223.91 317.60 221.46 C318.30 219.01 319.08 216.28 319.90 212.54 C320.72 208.80 321.57 203.42 322.50 199.00 C323.43 194.58 324.58 189.76 325.50 186.04 C326.42 182.31 327.08 179.54 328.00 176.65 C328.92 173.76 329.33 173.20 331.00 168.69 C332.67 164.19 335.67 154.42 338.00 149.62 C340.33 144.81 343.00 142.01 345.00 139.84 C347.00 137.66 348.17 137.27 350.00 136.57 C351.83 135.87 353.50 135.27 356.00 135.66 C358.50 136.05 362.33 137.27 365.00 138.90 C367.67 140.53 370.33 143.62 372.00 145.45 C373.67 147.28 373.67 147.78 375.00 149.90 C376.33 152.03 378.33 155.43 380.00 158.20 C381.67 160.97 383.67 164.37 385.00 166.50 C386.33 168.63 387.00 169.62 388.00 171.00 C389.00 172.38 390.17 174.20 391.00 174.80 C391.83 175.40 392.43 173.75 393.00 174.60 C393.57 175.45 393.87 175.53 394.40 179.92 C394.93 184.31 395.52 193.05 396.20 200.94 C396.88 208.84 397.73 219.67 398.50 227.29 C399.27 234.90 400.00 240.86 400.80 246.63 C401.60 252.40 402.52 257.30 403.30 261.91 C404.08 266.52 404.75 270.75 405.50 274.29 C406.25 277.82 407.00 280.76 407.80 283.13 C408.60 285.50 409.40 287.18 410.30 288.51 C411.20 289.85 412.17 290.86 413.20 291.16 C414.23 291.46 415.20 291.01 416.50 290.32 C417.80 289.64 418.75 290.27 421.00 287.05 C423.25 283.83 426.83 276.88 430.00 271.00 C433.17 265.12 437.25 256.66 440.00 251.80 C442.75 246.93 444.50 244.90 446.50 241.81 C448.50 238.72 449.75 236.07 452.00 233.25 C454.25 230.43 457.50 226.94 460.00 224.89 C462.50 222.84 464.67 221.76 467.00 220.94 C469.33 220.13 471.67 219.82 474.00 220.00 C476.33 220.18 478.67 220.50 481.00 222.00 C483.33 223.50 485.50 225.93 488.00 229.00 C490.50 232.07 493.42 237.03 496.00 240.43 C498.58 243.83 501.00 246.40 503.50 249.39 C506.00 252.38 508.25 254.97 511.00 258.36 C513.75 261.74 517.17 266.17 520.00 269.71 C522.83 273.26 525.17 276.60 528.00 279.64 C530.83 282.69 535.50 286.61 537.00 288.00" stroke="#2E8B2E" stroke-width="2.1" fill="none" stroke-dasharray="5 3"/>
<path d="M68.30 289.00 C69.42 289.50 72.38 291.33 75.00 292.00 C77.62 292.67 81.17 292.83 84.00 293.00 C86.83 293.17 89.33 293.08 92.00 293.00 C94.67 292.92 98.17 293.67 100.00 292.50 C101.83 291.33 102.00 288.92 103.00 286.00 C104.00 283.08 105.00 278.50 106.00 275.00 C107.00 271.50 108.00 267.08 109.00 265.00 C110.00 262.92 111.00 262.50 112.00 262.50 C113.00 262.50 114.00 263.58 115.00 265.00 C116.00 266.42 116.83 268.67 118.00 271.00 C119.17 273.33 120.33 276.33 122.00 279.00 C123.67 281.67 126.17 284.92 128.00 287.00 C129.83 289.08 131.50 290.42 133.00 291.50 C134.50 292.58 135.83 293.67 137.00 293.50 C138.17 293.33 138.92 292.25 140.00 290.50 C141.08 288.75 142.58 287.25 143.50 283.00 C144.42 278.75 144.92 273.00 145.50 265.00 C146.08 257.00 146.50 245.00 147.00 235.00 C147.50 225.00 148.00 214.50 148.50 205.00 C149.00 195.50 149.55 185.83 150.00 178.00 C150.45 170.17 150.82 163.50 151.20 158.00 C151.58 152.50 151.95 148.67 152.30 145.00 C152.65 141.33 152.88 138.33 153.30 136.00 C153.72 133.67 154.13 132.08 154.80 131.00 C155.47 129.92 155.60 129.87 157.30 129.50 C159.00 129.13 161.22 129.13 165.00 128.80 C168.78 128.47 175.00 127.87 180.00 127.50 C185.00 127.13 191.67 127.27 195.00 126.60 C198.33 125.93 196.87 124.90 200.00 123.50 C203.13 122.10 209.20 119.70 213.80 118.20 C218.40 116.70 224.07 114.95 227.60 114.50 C231.13 114.05 232.52 114.62 235.00 115.50 C237.48 116.38 240.00 118.55 242.50 119.80 C245.00 121.05 247.08 122.50 250.00 123.00 C252.92 123.50 256.33 122.97 260.00 122.80 C263.67 122.63 269.33 121.88 272.00 122.00 C274.67 122.12 274.83 122.67 276.00 123.50 C277.17 124.33 278.00 125.25 279.00 127.00 C280.00 128.75 280.87 131.50 282.00 134.00 C283.13 136.50 284.47 138.00 285.80 142.00 C287.13 146.00 288.88 152.33 290.00 158.00 C291.12 163.67 291.75 169.83 292.50 176.00 C293.25 182.17 293.83 189.33 294.50 195.00 C295.17 200.67 295.75 205.67 296.50 210.00 C297.25 214.33 298.08 217.92 299.00 221.00 C299.92 224.08 301.00 226.67 302.00 228.50 C303.00 230.33 304.00 231.25 305.00 232.00 C306.00 232.75 307.00 233.00 308.00 233.00 C309.00 233.00 310.00 232.83 311.00 232.00 C312.00 231.17 313.00 230.00 314.00 228.00 C315.00 226.00 316.00 223.00 317.00 220.00 C318.00 217.00 318.83 214.00 320.00 210.00 C321.17 206.00 322.17 200.50 324.00 196.00 C325.83 191.50 328.33 188.00 331.00 183.00 C333.67 178.00 337.17 169.75 340.00 166.00 C342.83 162.25 345.17 161.70 348.00 160.50 C350.83 159.30 354.17 158.63 357.00 158.80 C359.83 158.97 362.50 160.30 365.00 161.50 C367.50 162.70 369.50 164.17 372.00 166.00 C374.50 167.83 377.67 170.67 380.00 172.50 C382.33 174.33 384.17 175.67 386.00 177.00 C387.83 178.33 389.67 179.00 391.00 180.50 C392.33 182.00 393.08 182.75 394.00 186.00 C394.92 189.25 395.67 193.83 396.50 200.00 C397.33 206.17 398.00 214.00 399.00 223.00 C400.00 232.00 401.33 245.42 402.50 254.00 C403.67 262.58 404.92 269.50 406.00 274.50 C407.08 279.50 408.00 281.75 409.00 284.00 C410.00 286.25 411.00 287.25 412.00 288.00 C413.00 288.75 413.92 288.75 415.00 288.50 C416.08 288.25 417.50 287.08 418.50 286.50 C419.50 285.92 419.08 287.83 421.00 285.00 C422.92 282.17 426.83 275.42 430.00 269.50 C433.17 263.58 437.25 254.58 440.00 249.50 C442.75 244.42 444.50 242.25 446.50 239.00 C448.50 235.75 449.75 233.00 452.00 230.00 C454.25 227.00 457.50 223.25 460.00 221.00 C462.50 218.75 464.67 217.42 467.00 216.50 C469.33 215.58 471.67 215.25 474.00 215.50 C476.33 215.75 478.67 216.42 481.00 218.00 C483.33 219.58 485.50 221.92 488.00 225.00 C490.50 228.08 493.42 233.00 496.00 236.50 C498.58 240.00 501.00 242.75 503.50 246.00 C506.00 249.25 508.25 252.42 511.00 256.00 C513.75 259.58 517.17 264.00 520.00 267.50 C522.83 271.00 525.17 274.00 528.00 277.00 C530.83 280.00 535.50 284.08 537.00 285.50" stroke="#151515" stroke-width="2.1" fill="none" stroke-dasharray="5 3" stroke-dashoffset="0.0"/>
<path d="M68.30 289.00 C69.42 289.50 72.38 291.33 75.00 292.00 C77.62 292.67 81.17 292.83 84.00 293.00 C86.83 293.17 89.33 293.08 92.00 293.00 C94.67 292.92 98.17 293.67 100.00 292.50 C101.83 291.33 102.00 288.92 103.00 286.00 C104.00 283.08 105.00 278.50 106.00 275.00 C107.00 271.50 108.00 267.08 109.00 265.00 C110.00 262.92 111.00 262.50 112.00 262.50 C113.00 262.50 114.00 263.58 115.00 265.00 C116.00 266.42 116.83 268.67 118.00 271.00 C119.17 273.33 120.33 276.33 122.00 279.00 C123.67 281.67 126.17 284.92 128.00 287.00 C129.83 289.08 131.50 290.42 133.00 291.50 C134.50 292.58 135.83 293.67 137.00 293.50 C138.17 293.33 138.92 292.25 140.00 290.50 C141.08 288.75 142.58 287.23 143.50 283.00 C144.42 278.77 144.92 273.03 145.50 265.10 C146.08 257.17 146.50 245.31 147.00 235.42 C147.50 225.52 148.00 215.12 148.50 205.73 C149.00 196.33 149.55 186.78 150.00 179.04 C150.45 171.30 150.82 164.71 151.20 159.29 C151.58 153.87 151.95 150.11 152.30 146.52 C152.65 142.93 152.88 139.98 153.30 137.73 C153.72 135.48 154.13 134.00 154.80 133.04 C155.47 132.09 155.60 132.29 157.30 132.00 C159.00 131.71 161.22 131.63 165.00 131.30 C168.78 130.97 175.00 130.37 180.00 130.00 C185.00 129.63 191.67 129.77 195.00 129.10 C198.33 128.43 196.87 127.40 200.00 126.00 C203.13 124.60 209.20 122.20 213.80 120.70 C218.40 119.20 224.07 117.45 227.60 117.00 C231.13 116.55 232.52 117.12 235.00 118.00 C237.48 118.88 240.00 121.05 242.50 122.30 C245.00 123.55 247.08 125.00 250.00 125.50 C252.92 126.00 256.33 125.47 260.00 125.30 C263.67 125.13 269.33 124.42 272.00 124.50 C274.67 124.58 274.83 125.05 276.00 125.81 C277.17 126.56 278.00 127.37 279.00 129.02 C280.00 130.67 280.87 133.34 282.00 135.73 C283.13 138.12 284.47 139.49 285.80 143.37 C287.13 147.24 288.88 153.40 290.00 158.96 C291.12 164.52 291.75 170.63 292.50 176.72 C293.25 182.82 293.83 189.93 294.50 195.53 C295.17 201.13 295.75 206.08 296.50 210.34 C297.25 214.60 298.08 218.07 299.00 221.10 C299.92 224.12 301.00 226.68 302.00 228.50 C303.00 230.32 304.00 231.24 305.00 232.00 C306.00 232.76 307.00 232.99 308.00 233.03 C309.00 233.07 310.00 232.98 311.00 232.21 C312.00 231.44 313.00 230.33 314.00 228.39 C315.00 226.45 316.00 223.52 317.00 220.58 C318.00 217.64 318.83 214.69 320.00 210.76 C321.17 206.83 322.17 201.39 324.00 197.00 C325.83 192.61 328.33 189.26 331.00 184.42 C333.67 179.59 337.17 171.55 340.00 167.97 C342.83 164.39 345.17 163.98 348.00 162.95 C350.83 161.93 354.17 161.54 357.00 161.80 C359.83 162.06 362.50 163.30 365.00 164.50 C367.50 165.70 369.50 167.17 372.00 169.00 C374.50 170.83 377.67 173.67 380.00 175.50 C382.33 177.33 384.17 178.67 386.00 180.00 C387.83 181.33 389.67 182.11 391.00 183.50 C392.33 184.89 393.08 185.31 394.00 188.37 C394.92 191.43 395.67 195.85 396.50 201.84 C397.33 207.83 398.00 215.53 399.00 224.32 C400.00 233.11 401.33 246.24 402.50 254.58 C403.67 262.92 404.92 269.57 406.00 274.34 C407.08 279.11 408.00 281.11 409.00 283.21 C410.00 285.31 411.00 286.24 412.00 286.92 C413.00 287.60 413.92 287.60 415.00 287.30 C416.08 287.01 417.50 285.79 418.50 285.17 C419.50 284.55 419.08 286.48 421.00 283.57 C422.92 280.66 426.83 273.76 430.00 267.72 C433.17 261.68 437.25 252.52 440.00 247.33 C442.75 242.14 444.50 239.90 446.50 236.57 C448.50 233.25 449.75 230.45 452.00 227.36 C454.25 224.27 457.50 220.39 460.00 218.05 C462.50 215.70 464.67 214.28 467.00 213.27 C469.33 212.27 471.67 211.75 474.00 212.00 C476.33 212.25 478.67 213.10 481.00 214.78 C483.33 216.45 485.50 218.87 488.00 222.06 C490.50 225.24 493.42 230.27 496.00 233.87 C498.58 237.48 501.00 240.32 503.50 243.67 C506.00 247.02 508.25 250.28 511.00 253.97 C513.75 257.66 517.17 262.21 520.00 265.83 C522.83 269.44 525.17 272.53 528.00 275.64 C530.83 278.76 535.50 283.02 537.00 284.50" stroke="#D9980F" stroke-width="2.1" fill="none" stroke-dasharray="5 3" stroke-dashoffset="1.2"/>
<path d="M68.30 287.50 C69.42 288.00 72.38 289.83 75.00 290.50 C77.62 291.17 81.17 291.33 84.00 291.50 C86.83 291.67 89.33 291.58 92.00 291.50 C94.67 291.42 98.17 292.10 100.00 291.00 C101.83 289.90 102.00 287.67 103.00 284.88 C104.00 282.08 105.00 277.62 106.00 274.25 C107.00 270.88 108.00 266.58 109.00 264.62 C110.00 262.67 111.00 262.48 112.00 262.50 C113.00 262.52 114.00 263.43 115.00 264.77 C116.00 266.11 116.83 268.29 118.00 270.54 C119.17 272.78 120.33 275.67 122.00 278.23 C123.67 280.79 126.17 283.89 128.00 285.88 C129.83 287.86 131.50 289.15 133.00 290.17 C134.50 291.19 135.83 292.10 137.00 292.00 C138.17 291.90 138.92 291.11 140.00 289.56 C141.08 288.02 142.58 286.79 143.50 282.72 C144.42 278.65 144.92 272.99 145.50 265.12 C146.08 257.26 146.50 245.38 147.00 235.50 C147.50 225.62 148.00 215.25 148.50 205.88 C149.00 196.50 149.55 186.97 150.00 179.25 C150.45 171.53 150.82 164.95 151.20 159.55 C151.58 154.15 151.95 150.40 152.30 146.82 C152.65 143.25 152.88 140.30 153.30 138.07 C153.72 135.85 154.13 134.38 154.80 133.45 C155.47 132.52 155.60 132.77 157.30 132.50 C159.00 132.23 161.22 132.15 165.00 131.83 C168.78 131.52 175.00 130.94 180.00 130.60 C185.00 130.25 191.67 130.41 195.00 129.76 C198.33 129.11 196.87 128.07 200.00 126.68 C203.13 125.30 209.20 122.92 213.80 121.44 C218.40 119.96 224.07 118.24 227.60 117.80 C231.13 117.37 232.52 117.94 235.00 118.83 C237.48 119.73 240.00 121.90 242.50 123.17 C245.00 124.43 247.08 125.88 250.00 126.40 C252.92 126.91 256.33 126.39 260.00 126.24 C263.67 126.09 269.33 125.40 272.00 125.49 C274.67 125.58 274.83 126.04 276.00 126.79 C277.17 127.54 278.00 128.33 279.00 129.98 C280.00 131.62 280.87 134.28 282.00 136.66 C283.13 139.05 284.47 140.41 285.80 144.27 C287.13 148.13 288.88 154.28 290.00 159.83 C291.12 165.38 291.75 171.48 292.50 177.57 C293.25 183.66 293.83 190.76 294.50 196.36 C295.17 201.96 295.75 206.89 296.50 211.15 C297.25 215.40 298.08 218.90 299.00 221.89 C299.92 224.88 301.00 227.35 302.00 229.07 C303.00 230.80 304.00 231.61 305.00 232.26 C306.00 232.92 307.00 233.04 308.00 233.00 C309.00 232.96 310.00 232.83 311.00 232.00 C312.00 231.17 313.00 230.00 314.00 228.00 C315.00 226.00 316.00 223.00 317.00 220.00 C318.00 217.00 318.83 214.00 320.00 210.00 C321.17 206.00 322.17 200.50 324.00 196.00 C325.83 191.50 328.33 188.00 331.00 183.00 C333.67 178.00 337.17 169.75 340.00 166.00 C342.83 162.25 345.17 161.70 348.00 160.50 C350.83 159.30 354.17 158.63 357.00 158.80 C359.83 158.97 362.50 160.30 365.00 161.50 C367.50 162.70 369.50 164.17 372.00 166.00 C374.50 167.83 377.67 170.67 380.00 172.50 C382.33 174.33 384.17 175.67 386.00 177.00 C387.83 178.33 389.67 179.03 391.00 180.50 C392.33 181.97 393.08 182.64 394.00 185.84 C394.92 189.04 395.67 193.59 396.50 199.71 C397.33 205.83 398.00 213.63 399.00 222.58 C400.00 231.53 401.33 244.87 402.50 253.39 C403.67 261.92 404.92 268.77 406.00 273.71 C407.08 278.65 408.00 280.84 409.00 283.05 C410.00 285.26 411.00 286.24 412.00 286.97 C413.00 287.70 413.92 287.69 415.00 287.42 C416.08 287.15 417.50 285.97 418.50 285.37 C419.50 284.77 419.08 286.69 421.00 283.83 C422.92 280.96 426.83 274.15 430.00 268.19 C433.17 262.22 437.25 253.16 440.00 248.03 C442.75 242.90 444.50 240.71 446.50 237.43 C448.50 234.15 449.75 231.38 452.00 228.34 C454.25 225.31 457.50 221.51 460.00 219.22 C462.50 216.93 464.67 215.56 467.00 214.61 C469.33 213.66 471.67 213.25 474.00 213.50 C476.33 213.75 478.67 214.49 481.00 216.11 C483.33 217.73 485.50 220.10 488.00 223.22 C490.50 226.35 493.42 231.31 496.00 234.85 C498.58 238.39 501.00 241.18 503.50 244.47 C506.00 247.76 508.25 250.96 511.00 254.59 C513.75 258.21 517.17 262.69 520.00 266.23 C522.83 269.78 525.17 272.81 528.00 275.86 C530.83 278.90 535.50 283.06 537.00 284.50" stroke="#EA5F1C" stroke-width="2.1" fill="none" stroke-dasharray="5 3" stroke-dashoffset="1.8"/>
<path d="M68.30 290.00 C69.42 290.48 72.38 292.28 75.00 292.91 C77.62 293.54 81.17 293.66 84.00 293.79 C86.83 293.92 89.33 293.81 92.00 293.69 C94.67 293.57 98.17 294.27 100.00 293.08 C101.83 291.89 102.00 289.48 103.00 286.55 C104.00 283.62 105.00 279.02 106.00 275.51 C107.00 271.99 108.00 267.56 109.00 265.47 C110.00 263.37 111.00 262.94 112.00 262.93 C113.00 262.92 114.00 263.99 115.00 265.39 C116.00 266.79 116.83 269.03 118.00 271.35 C119.17 273.67 120.33 276.65 122.00 279.30 C123.67 281.94 126.17 285.16 128.00 287.22 C129.83 289.28 131.50 290.59 133.00 291.66 C134.50 292.72 135.83 293.79 137.00 293.60 C138.17 293.42 138.92 292.33 140.00 290.56 C141.08 288.80 142.58 287.26 143.50 283.02 C144.42 278.78 144.92 273.04 145.50 265.10 C146.08 257.17 146.50 245.31 147.00 235.42 C147.50 225.52 148.00 215.12 148.50 205.73 C149.00 196.33 149.55 186.78 150.00 179.04 C150.45 171.30 150.82 164.71 151.20 159.29 C151.58 153.87 151.95 150.11 152.30 146.52 C152.65 142.93 152.88 139.98 153.30 137.73 C153.72 135.48 154.13 134.00 154.80 133.04 C155.47 132.09 155.60 132.29 157.30 132.00 C159.00 131.71 161.22 131.63 165.00 131.30 C168.78 130.97 175.00 130.37 180.00 130.00 C185.00 129.63 191.67 129.77 195.00 129.10 C198.33 128.43 196.87 127.40 200.00 126.00 C203.13 124.60 209.20 122.20 213.80 120.70 C218.40 119.20 224.07 117.45 227.60 117.00 C231.13 116.55 232.52 117.12 235.00 118.00 C237.48 118.88 240.00 121.05 242.50 122.30 C245.00 123.55 247.08 125.00 250.00 125.50 C252.92 126.00 256.33 125.47 260.00 125.30 C263.67 125.13 269.33 124.40 272.00 124.50 C274.67 124.60 274.83 125.11 276.00 125.91 C277.17 126.71 278.00 127.57 279.00 129.28 C280.00 130.98 280.87 133.69 282.00 136.14 C283.13 138.59 284.47 140.03 285.80 143.97 C287.13 147.91 288.88 154.17 290.00 159.78 C291.12 165.40 291.75 171.54 292.50 177.67 C293.25 183.80 293.83 190.95 294.50 196.58 C295.17 202.22 295.75 207.19 296.50 211.49 C297.25 215.79 298.08 219.34 299.00 222.38 C299.92 225.42 301.00 227.96 302.00 229.75 C303.00 231.53 304.00 232.40 305.00 233.11 C306.00 233.82 307.00 234.02 308.00 234.02 C309.00 234.03 310.00 233.93 311.00 233.14 C312.00 232.35 313.00 231.22 314.00 229.26 C315.00 227.30 316.00 224.34 317.00 221.38 C318.00 218.42 318.83 215.46 320.00 211.51 C321.17 207.55 322.17 202.09 324.00 197.67 C325.83 193.24 328.33 189.84 331.00 184.95 C333.67 180.06 337.17 171.95 340.00 168.31 C342.83 164.68 345.17 164.22 348.00 163.14 C350.83 162.05 354.17 161.54 357.00 161.80 C359.83 162.06 362.50 163.47 365.00 164.70 C367.50 165.93 369.50 167.34 372.00 169.16 C374.50 170.99 377.67 173.78 380.00 175.62 C382.33 177.47 384.17 178.77 386.00 180.25 C387.83 181.73 389.67 183.01 391.00 184.50 C392.33 185.99 393.08 186.20 394.00 189.21 C394.92 192.22 395.67 196.61 396.50 202.55 C397.33 208.50 398.00 216.16 399.00 224.89 C400.00 233.63 401.33 246.70 402.50 254.97 C403.67 263.25 404.92 269.84 406.00 274.55 C407.08 279.27 408.00 281.20 409.00 283.26 C410.00 285.33 411.00 286.26 412.00 286.94 C413.00 287.62 413.92 287.63 415.00 287.34 C416.08 287.06 417.50 285.85 418.50 285.23 C419.50 284.62 419.08 286.55 421.00 283.66 C422.92 280.76 426.83 273.89 430.00 267.88 C433.17 261.86 437.25 252.73 440.00 247.56 C442.75 242.39 444.50 240.17 446.50 236.86 C448.50 233.55 449.75 230.76 452.00 227.69 C454.25 224.62 457.50 220.77 460.00 218.44 C462.50 216.11 464.67 214.71 467.00 213.72 C469.33 212.73 471.67 212.23 474.00 212.50 C476.33 212.77 478.67 213.64 481.00 215.33 C483.33 217.03 485.50 219.46 488.00 222.67 C490.50 225.87 493.42 230.92 496.00 234.55 C498.58 238.17 501.00 241.04 503.50 244.40 C506.00 247.77 508.25 251.05 511.00 254.76 C513.75 258.48 517.17 263.06 520.00 266.69 C522.83 270.33 525.17 273.44 528.00 276.57 C530.83 279.71 535.50 284.01 537.00 285.50" stroke="#1F56A3" stroke-width="2.1" fill="none" stroke-dasharray="5 3" stroke-dashoffset="0.0"/>
<path d="M68.30 289.99 C69.42 290.44 72.38 292.15 75.00 292.71 C77.62 293.27 81.17 293.28 84.00 293.33 C86.83 293.38 89.33 293.13 92.00 293.00 C94.67 292.87 98.17 293.89 100.00 292.57 C101.83 291.26 102.00 288.46 103.00 285.11 C104.00 281.75 105.00 276.49 106.00 272.46 C107.00 268.44 108.00 263.37 109.00 260.97 C110.00 258.58 111.00 258.10 112.00 258.10 C113.00 258.10 114.00 259.34 115.00 260.97 C116.00 262.60 116.83 265.19 118.00 267.87 C119.17 270.55 120.33 274.00 122.00 277.06 C123.67 280.13 126.17 283.86 128.00 286.25 C129.83 288.65 131.50 290.18 133.00 291.43 C134.50 292.67 135.83 293.92 137.00 293.72 C138.17 293.53 138.92 292.06 140.00 290.28 C141.08 288.49 142.58 287.32 143.50 283.00 C144.42 278.68 144.92 272.56 145.50 264.38 C146.08 256.21 146.50 244.08 147.00 233.92 C147.50 223.77 148.00 213.12 148.50 203.46 C149.00 193.81 149.55 184.33 150.00 176.00 C150.45 167.67 150.82 159.80 151.20 153.50 C151.58 147.20 151.95 142.60 152.30 138.21 C152.65 133.81 152.88 130.33 153.30 127.12 C153.72 123.92 154.13 120.99 154.80 119.00 C155.47 117.01 155.60 115.98 157.30 115.16 C159.00 114.33 161.22 114.37 165.00 114.06 C168.78 113.76 175.00 113.51 180.00 113.33 C185.00 113.15 191.67 113.35 195.00 113.00 C198.33 112.65 196.87 111.81 200.00 111.26 C203.13 110.71 209.20 110.41 213.80 109.70 C218.40 108.99 224.07 107.19 227.60 107.00 C231.13 106.81 232.52 107.48 235.00 108.55 C237.48 109.61 240.00 111.89 242.50 113.40 C245.00 114.91 247.08 116.98 250.00 117.60 C252.92 118.22 256.33 117.39 260.00 117.13 C263.67 116.86 269.33 116.02 272.00 116.00 C274.67 115.98 274.83 116.50 276.00 117.00 C277.17 117.50 278.00 117.83 279.00 119.00 C280.00 120.17 280.87 121.83 282.00 124.00 C283.13 126.17 284.47 127.67 285.80 132.00 C287.13 136.33 288.88 143.70 290.00 150.00 C291.12 156.30 291.75 163.08 292.50 169.79 C293.25 176.49 293.83 184.07 294.50 190.21 C295.17 196.36 295.75 201.85 296.50 206.64 C297.25 211.43 298.08 215.41 299.00 218.95 C299.92 222.49 301.00 225.57 302.00 227.88 C303.00 230.19 304.00 231.64 305.00 232.81 C306.00 233.98 307.00 234.82 308.00 234.89 C309.00 234.97 310.00 234.30 311.00 233.26 C312.00 232.21 313.00 230.83 314.00 228.62 C315.00 226.40 316.00 223.19 317.00 219.98 C318.00 216.77 318.83 213.59 320.00 209.34 C321.17 205.09 322.17 199.38 324.00 194.49 C325.83 189.60 328.33 185.44 331.00 180.00 C333.67 174.56 337.17 165.97 340.00 161.86 C342.83 157.75 345.17 156.90 348.00 155.34 C350.83 153.78 354.17 152.17 357.00 152.50 C359.83 152.83 362.50 155.76 365.00 157.30 C367.50 158.84 369.50 159.91 372.00 161.73 C374.50 163.55 377.67 166.32 380.00 168.20 C382.33 170.08 384.17 171.37 386.00 173.00 C387.83 174.63 389.67 176.10 391.00 178.00 C392.33 179.90 393.08 180.90 394.00 184.40 C394.92 187.90 395.67 192.73 396.50 198.98 C397.33 205.23 398.00 212.93 399.00 221.89 C400.00 230.86 401.33 244.23 402.50 252.77 C403.67 261.31 404.92 268.18 406.00 273.14 C407.08 278.10 408.00 280.32 409.00 282.54 C410.00 284.75 411.00 285.72 412.00 286.43 C413.00 287.15 413.92 287.12 415.00 286.83 C416.08 286.54 417.50 285.33 418.50 284.71 C419.50 284.09 419.08 286.02 421.00 283.12 C422.92 280.22 426.83 273.34 430.00 267.31 C433.17 261.29 437.25 252.15 440.00 246.97 C442.75 241.79 444.50 239.56 446.50 236.25 C448.50 232.93 449.75 230.13 452.00 227.06 C454.25 223.98 457.50 220.12 460.00 217.78 C462.50 215.45 464.67 214.04 467.00 213.04 C469.33 212.04 471.67 211.54 474.00 211.80 C476.33 212.06 478.67 212.92 481.00 214.60 C483.33 216.28 485.50 218.71 488.00 221.90 C490.50 225.09 493.42 230.13 496.00 233.74 C498.58 237.35 501.00 240.21 503.50 243.56 C506.00 246.92 508.25 250.18 511.00 253.89 C513.75 257.59 517.17 262.15 520.00 265.77 C522.83 269.39 525.17 272.49 528.00 275.61 C530.83 278.74 535.50 283.02 537.00 284.50" stroke="#1C86D6" stroke-width="2.1" fill="none" stroke-dasharray="5 3" stroke-dashoffset="0.6"/>
<line x1="145.4" y1="19.8" x2="145.4" y2="308.6" stroke="#F20000" stroke-width="3" stroke-dasharray="2.9 2.594"/>
<line x1="276.3" y1="19.8" x2="276.3" y2="308.6" stroke="#F20000" stroke-width="3" stroke-dasharray="2.9 2.594"/>
<line x1="383.5" y1="30.00" x2="401" y2="30.00" stroke="#151515" stroke-width="2.2"/>
<text x="401.8" y="33.30" class="lg">CONT</text>
<line x1="383.5" y1="43.75" x2="401" y2="43.75" stroke="#D9980F" stroke-width="2.2"/>
<text x="401.8" y="47.05" class="lg">GA10</text>
<line x1="383.5" y1="57.50" x2="401" y2="57.50" stroke="#EA5F1C" stroke-width="2.2"/>
<text x="401.8" y="60.80" class="lg">GA100</text>
<line x1="383.5" y1="71.25" x2="401" y2="71.25" stroke="#2E8B2E" stroke-width="2.2"/>
<text x="401.8" y="74.55" class="lg">PAC</text>
<line x1="383.5" y1="85.00" x2="401" y2="85.00" stroke="#1F56A3" stroke-width="2.2"/>
<text x="401.8" y="88.30" class="lg">GA10+PAC</text>
<line x1="383.5" y1="98.75" x2="401" y2="98.75" stroke="#93C4EC" stroke-width="2.2"/>
<text x="401.8" y="102.05" class="lg">GA100+PAC</text>
<line x1="458" y1="30.00" x2="476.5" y2="30.00" stroke="#151515" stroke-width="2.2" stroke-dasharray="5 2.5"/>
<text x="476.8" y="33.30" class="lg">SCONT</text>
<line x1="458" y1="43.75" x2="476.5" y2="43.75" stroke="#D9980F" stroke-width="2.2" stroke-dasharray="5 2.5"/>
<text x="476.8" y="47.05" class="lg">SGA10</text>
<line x1="458" y1="57.50" x2="476.5" y2="57.50" stroke="#EA5F1C" stroke-width="2.2" stroke-dasharray="5 2.5"/>
<text x="476.8" y="60.80" class="lg">SGA100</text>
<line x1="458" y1="71.25" x2="476.5" y2="71.25" stroke="#2E8B2E" stroke-width="2.2" stroke-dasharray="5 2.5"/>
<text x="476.8" y="74.55" class="lg">SPAC</text>
<line x1="458" y1="85.00" x2="476.5" y2="85.00" stroke="#1F56A3" stroke-width="2.2" stroke-dasharray="5 2.5"/>
<text x="476.8" y="88.30" class="lg">SGA10+PAC</text>
<line x1="458" y1="98.75" x2="476.5" y2="98.75" stroke="#1C86D6" stroke-width="2.2" stroke-dasharray="5 2.5"/>
<text x="476.8" y="102.05" class="lg">SGA100+PAC</text>
<rect x="298.2" y="35.2" width="69.6" height="43.6" fill="#fff" stroke="#000" stroke-width="1.9"/>
<text x="360.3" y="54.6" text-anchor="end" class="ft" textLength="49.8" lengthAdjust="spacing">F: 587.3</text>
<text x="361.3" y="69.4" text-anchor="end" class="ft">p &lt;0.001</text>
<text x="108.7" y="86.4" text-anchor="middle" class="lb">VIS</text>
<text x="110.4" y="103.5" text-anchor="middle" class="lb">Pigments</text>
<text x="221.3" y="164.5" text-anchor="middle" class="lb">NIR</text>
<text x="221.5" y="181.7" text-anchor="middle" class="lb">Structures</text>
<text x="471.2" y="176.7" text-anchor="middle" class="lb">SWIR</text>
<text x="471.9" y="193.3" text-anchor="middle" class="lb">Water-structures</text>
<rect x="60" y="334.2" width="486" height="16.3" fill="url(#spec)"/>
<text x="291.2" y="369.6" text-anchor="middle" style="font-size:17.7px">Wavelengths (nm)</text>
<text transform="translate(18.8,161) rotate(-90)" text-anchor="middle" style="font-size:17.75px">Factor of reflectance</text>
</svg>
</body></html>
